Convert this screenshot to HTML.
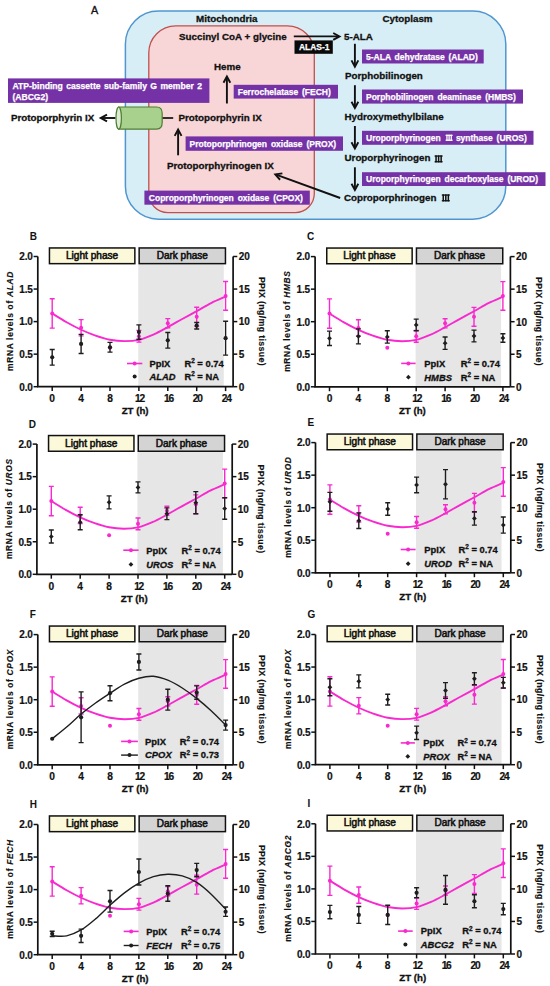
<!DOCTYPE html>
<html><head><meta charset="utf-8"><title>Figure</title>
<style>
html,body{margin:0;padding:0;background:#fff;}
body{width:550px;height:986px;overflow:hidden;}
svg{display:block;font-family:"Liberation Sans", sans-serif;}
</style></head>
<body>
<svg width="550" height="986" viewBox="0 0 550 986">
<text x="91" y="13.8" font-size="10.8" font-weight="normal" text-anchor="start" fill="#111" stroke="#111" stroke-width="0.35" >A</text>
<rect x="125.4" y="11" width="380.4" height="208.2" rx="33" ry="33" fill="#D8EEF6" stroke="#4F96D0" stroke-width="1.5"/>
<path d="M175.8,25.8 L287.3,25.8 A27,27 0 0 1 314.3,52.8 L314.3,193.6 A19,19 0 0 1 295.3,212.6 L167.8,212.6 A19,19 0 0 1 148.8,193.6 L148.8,52.8 A27,27 0 0 1 175.8,25.8 Z" fill="#F8D6D7" stroke="#C0504D" stroke-width="1.3"/>
<text x="196" y="21.7" font-size="9.8" font-weight="bold" text-anchor="start" fill="#111" stroke="#111" stroke-width="0.3" >Mitochondria</text>
<text x="382.5" y="22.3" font-size="9.8" font-weight="bold" text-anchor="start" fill="#111" stroke="#111" stroke-width="0.3" >Cytoplasm</text>
<text x="179" y="39.8" font-size="9.8" font-weight="bold" text-anchor="start" fill="#111" stroke="#111" stroke-width="0.3" >Succinyl CoA + glycine</text>
<text x="344" y="39.8" font-size="9.8" font-weight="bold" text-anchor="start" fill="#111" stroke="#111" stroke-width="0.3" >5-ALA</text>
<text x="345" y="79.1" font-size="9.8" font-weight="bold" text-anchor="start" fill="#111" stroke="#111" stroke-width="0.3" >Porphobilinogen</text>
<text x="344.5" y="119.6" font-size="9.8" font-weight="bold" text-anchor="start" fill="#111" stroke="#111" stroke-width="0.3" >Hydroxymethylbilane</text>
<text x="344.5" y="161.3" font-size="9.8" font-weight="bold" text-anchor="start" fill="#111" stroke="#111" stroke-width="0.3" >Uroporphyrinogen</text>
<g fill="#111"><rect x="434.60" y="155.40" width="8.00" height="1.3"/><rect x="434.60" y="161.10" width="8.00" height="1.3"/><rect x="435.30" y="155.40" width="1.50" height="7.00"/><rect x="437.85" y="155.40" width="1.50" height="7.00"/><rect x="440.40" y="155.40" width="1.50" height="7.00"/></g>
<text x="344" y="200.8" font-size="9.8" font-weight="bold" text-anchor="start" fill="#111" stroke="#111" stroke-width="0.3" >Coproporphrinogen</text>
<g fill="#111"><rect x="441.80" y="194.40" width="8.00" height="1.3"/><rect x="441.80" y="200.10" width="8.00" height="1.3"/><rect x="442.50" y="194.40" width="1.50" height="7.00"/><rect x="445.05" y="194.40" width="1.50" height="7.00"/><rect x="447.60" y="194.40" width="1.50" height="7.00"/></g>
<text x="214" y="69.8" font-size="9.8" font-weight="bold" text-anchor="start" fill="#111" stroke="#111" stroke-width="0.3" >Heme</text>
<text x="11" y="121.3" font-size="9.8" font-weight="bold" text-anchor="start" fill="#111" stroke="#111" stroke-width="0.3" >Protoporphyrin IX</text>
<text x="178.4" y="121.3" font-size="9.8" font-weight="bold" text-anchor="start" fill="#111" stroke="#111" stroke-width="0.3" >Protoporphyrin IX</text>
<text x="167" y="169.3" font-size="9.8" font-weight="bold" text-anchor="start" fill="#111" stroke="#111" stroke-width="0.3" >Protoporphyrinogen IX</text>
<line x1="293.8" y1="36.4" x2="338.70" y2="36.40" stroke="#111" stroke-width="1.9"/>
<polyline points="333.20,39.80 339.50,36.40 333.20,33.00" fill="none" stroke="#111" stroke-width="1.9" stroke-linejoin="miter"/>
<line x1="354.9" y1="43.8" x2="354.90" y2="65.90" stroke="#111" stroke-width="1.9"/>
<polyline points="351.50,60.40 354.90,66.70 358.30,60.40" fill="none" stroke="#111" stroke-width="1.9" stroke-linejoin="miter"/>
<line x1="354.9" y1="85.2" x2="354.90" y2="107.20" stroke="#111" stroke-width="1.9"/>
<polyline points="351.50,101.70 354.90,108.00 358.30,101.70" fill="none" stroke="#111" stroke-width="1.9" stroke-linejoin="miter"/>
<line x1="354.9" y1="126" x2="354.90" y2="147.80" stroke="#111" stroke-width="1.9"/>
<polyline points="351.50,142.30 354.90,148.60 358.30,142.30" fill="none" stroke="#111" stroke-width="1.9" stroke-linejoin="miter"/>
<line x1="354.9" y1="167.3" x2="354.90" y2="189.20" stroke="#111" stroke-width="1.9"/>
<polyline points="351.50,183.70 354.90,190.00 358.30,183.70" fill="none" stroke="#111" stroke-width="1.9" stroke-linejoin="miter"/>
<line x1="226.9" y1="103.5" x2="226.90" y2="77.30" stroke="#111" stroke-width="1.9"/>
<polyline points="230.30,82.80 226.90,76.50 223.50,82.80" fill="none" stroke="#111" stroke-width="1.9" stroke-linejoin="miter"/>
<line x1="178.1" y1="155.3" x2="178.10" y2="130.40" stroke="#111" stroke-width="1.9"/>
<polyline points="181.50,135.90 178.10,129.60 174.70,135.90" fill="none" stroke="#111" stroke-width="1.9" stroke-linejoin="miter"/>
<line x1="340.2" y1="198" x2="276.05" y2="174.67" stroke="#111" stroke-width="1.9"/>
<polyline points="282.38,173.36 275.30,174.40 280.06,179.75" fill="none" stroke="#111" stroke-width="1.9" stroke-linejoin="miter"/>
<line x1="115.5" y1="118" x2="101.50" y2="118.00" stroke="#111" stroke-width="1.9"/>
<polyline points="107.00,114.60 100.70,118.00 107.00,121.40" fill="none" stroke="#111" stroke-width="1.9" stroke-linejoin="miter"/>
<line x1="162" y1="118" x2="173.2" y2="118" stroke="#111" stroke-width="1.7"/>
<path d="M118.6,107 L156.6,107 Q162.2,107 162.2,113.5 L162.2,122.6 Q162.2,129.1 156.6,129.1 L118.6,129.1 Z" fill="#A9D18E" stroke="#4E7D32" stroke-width="1.2"/>
<ellipse cx="118.7" cy="118.05" rx="2.7" ry="11.05" fill="#DDEBD2" stroke="#4E7D32" stroke-width="1.2"/>
<rect x="8" y="78.4" width="201.4" height="24.5" fill="#7532A6"/>
<text x="12.4" y="88.6" font-size="8.6" font-weight="bold" fill="#fff" stroke="#fff" stroke-width="0.25" word-spacing="1">ATP-binding cassette sub-family G member 2</text>
<text x="12.4" y="99.6" font-size="8.6" font-weight="bold" fill="#fff" stroke="#fff" stroke-width="0.25">(ABCG2)</text>
<rect x="233.7" y="84.8" width="104.30" height="13.80" fill="#7532A6"/>
<text x="237.7" y="94.76" font-size="8.5" font-weight="bold" fill="#fff" stroke="#fff" stroke-width="0.25" word-spacing="1.5">Ferrochelatase (FECH)</text>
<rect x="185.6" y="136.4" width="157.40" height="14.40" fill="#7532A6"/>
<text x="189.6" y="146.66" font-size="8.5" font-weight="bold" fill="#fff" stroke="#fff" stroke-width="0.25" word-spacing="1.5">Protoporphrinogen oxidase (PROX)</text>
<rect x="144.4" y="190.6" width="165.40" height="14.10" fill="#7532A6"/>
<text x="148.8" y="200.71" font-size="8.5" font-weight="bold" fill="#fff" stroke="#fff" stroke-width="0.25" word-spacing="1.5">Coproporphyrinogen oxidase (CPOX)</text>
<rect x="362" y="49.5" width="121.70" height="14.00" fill="#7532A6"/>
<text x="366" y="59.56" font-size="8.5" font-weight="bold" fill="#fff" stroke="#fff" stroke-width="0.25" word-spacing="1.5">5-ALA dehydratase (ALAD)</text>
<rect x="362" y="89.5" width="161.00" height="14.10" fill="#7532A6"/>
<text x="366" y="99.61" font-size="8.5" font-weight="bold" fill="#fff" stroke="#fff" stroke-width="0.25" word-spacing="1.5">Porphobilinogen deaminase (HMBS)</text>
<rect x="362" y="130.8" width="171.50" height="14.00" fill="#7532A6"/>
<text x="366" y="140.86" font-size="8.5" font-weight="bold" fill="#fff" stroke="#fff" stroke-width="0.25" word-spacing="1.5">Uroporphyrinogen</text>
<text x="455.9" y="140.9" font-size="8.5" font-weight="bold" fill="#fff" stroke="#fff" stroke-width="0.25" word-spacing="1.5">synthase (UROS)</text>
<g fill="#fff"><rect x="445.60" y="134.70" width="7.00" height="1.3"/><rect x="445.60" y="139.60" width="7.00" height="1.3"/><rect x="446.30" y="134.70" width="1.30" height="6.20"/><rect x="448.45" y="134.70" width="1.30" height="6.20"/><rect x="450.60" y="134.70" width="1.30" height="6.20"/></g>
<rect x="362" y="172.2" width="183.50" height="13.80" fill="#7532A6"/>
<text x="366" y="182.16" font-size="8.5" font-weight="bold" fill="#fff" stroke="#fff" stroke-width="0.25" word-spacing="1.5">Uroporphyrinogen decarboxylase (UROD)</text>
<rect x="294.5" y="40.4" width="38.30" height="13.40" fill="#0a0a0a"/>
<text x="298.9" y="50.16" font-size="8.5" font-weight="bold" fill="#fff" stroke="#fff" stroke-width="0.25" word-spacing="1.5">ALAS-1</text>
<text x="29.7" y="240.0" font-size="10" font-weight="bold" text-anchor="start" fill="#111"  >B</text>
<rect x="138.30" y="264.50" width="85.50" height="122.20" fill="#E6E6E6"/>
<rect x="49.45" y="247.95" width="85.40" height="15.70" fill="#FCF9DA" stroke="#111" stroke-width="1.5"/>
<rect x="139.15" y="247.95" width="86.30" height="15.70" fill="#D4D4D4" stroke="#111" stroke-width="1.5"/>
<text x="92.1" y="259.1" font-size="10.1" font-weight="normal" text-anchor="middle" fill="#111" stroke="#111" stroke-width="0.55" >Light phase</text>
<text x="182.3" y="259.1" font-size="10.0" font-weight="normal" text-anchor="middle" fill="#111" stroke="#111" stroke-width="0.55" >Dark phase</text>
<path d="M37.80,256.50 L37.80,386.70 L233.10,386.70 M233.10,386.70 L233.10,256.50" fill="none" stroke="#111" stroke-width="1.7"/>
<line x1="33.60" y1="386.70" x2="37.80" y2="386.70" stroke="#111" stroke-width="1.5"/>
<text x="32.599999999999994" y="390.5" font-size="10" font-weight="bold" text-anchor="end" fill="#111" stroke="#111" stroke-width="0.2" letter-spacing="-0.2">0.0</text>
<line x1="233.10" y1="386.70" x2="237.30" y2="386.70" stroke="#111" stroke-width="1.5"/>
<text x="238.7" y="390.5" font-size="10" font-weight="bold" text-anchor="start" fill="#111" stroke="#111" stroke-width="0.2" >0</text>
<line x1="33.60" y1="354.15" x2="37.80" y2="354.15" stroke="#111" stroke-width="1.5"/>
<text x="32.599999999999994" y="357.95" font-size="10" font-weight="bold" text-anchor="end" fill="#111" stroke="#111" stroke-width="0.2" letter-spacing="-0.2">0.5</text>
<line x1="233.10" y1="354.15" x2="237.30" y2="354.15" stroke="#111" stroke-width="1.5"/>
<text x="238.7" y="357.95" font-size="10" font-weight="bold" text-anchor="start" fill="#111" stroke="#111" stroke-width="0.2" >5</text>
<line x1="33.60" y1="321.60" x2="37.80" y2="321.60" stroke="#111" stroke-width="1.5"/>
<text x="32.599999999999994" y="325.40000000000003" font-size="10" font-weight="bold" text-anchor="end" fill="#111" stroke="#111" stroke-width="0.2" letter-spacing="-0.2">1.0</text>
<line x1="233.10" y1="321.60" x2="237.30" y2="321.60" stroke="#111" stroke-width="1.5"/>
<text x="238.7" y="325.40000000000003" font-size="10" font-weight="bold" text-anchor="start" fill="#111" stroke="#111" stroke-width="0.2" >10</text>
<line x1="33.60" y1="289.05" x2="37.80" y2="289.05" stroke="#111" stroke-width="1.5"/>
<text x="32.599999999999994" y="292.85" font-size="10" font-weight="bold" text-anchor="end" fill="#111" stroke="#111" stroke-width="0.2" letter-spacing="-0.2">1.5</text>
<line x1="233.10" y1="289.05" x2="237.30" y2="289.05" stroke="#111" stroke-width="1.5"/>
<text x="238.7" y="292.85" font-size="10" font-weight="bold" text-anchor="start" fill="#111" stroke="#111" stroke-width="0.2" >15</text>
<line x1="33.60" y1="256.50" x2="37.80" y2="256.50" stroke="#111" stroke-width="1.5"/>
<text x="32.599999999999994" y="260.3" font-size="10" font-weight="bold" text-anchor="end" fill="#111" stroke="#111" stroke-width="0.2" letter-spacing="-0.2">2.0</text>
<line x1="233.10" y1="256.50" x2="237.30" y2="256.50" stroke="#111" stroke-width="1.5"/>
<text x="238.7" y="260.3" font-size="10" font-weight="bold" text-anchor="start" fill="#111" stroke="#111" stroke-width="0.2" >20</text>
<line x1="52.20" y1="386.70" x2="52.20" y2="391.10" stroke="#111" stroke-width="1.5"/>
<text x="52.2" y="402.09999999999997" font-size="10.2" font-weight="bold" text-anchor="middle" fill="#111" stroke="#111" stroke-width="0.2" letter-spacing="0">0</text>
<line x1="81.10" y1="386.70" x2="81.10" y2="391.10" stroke="#111" stroke-width="1.5"/>
<text x="81.1" y="402.09999999999997" font-size="10.2" font-weight="bold" text-anchor="middle" fill="#111" stroke="#111" stroke-width="0.2" letter-spacing="0">4</text>
<line x1="110.00" y1="386.70" x2="110.00" y2="391.10" stroke="#111" stroke-width="1.5"/>
<text x="110.0" y="402.09999999999997" font-size="10.2" font-weight="bold" text-anchor="middle" fill="#111" stroke="#111" stroke-width="0.2" letter-spacing="0">8</text>
<line x1="138.90" y1="386.70" x2="138.90" y2="391.10" stroke="#111" stroke-width="1.5"/>
<text x="139.49999999999997" y="402.09999999999997" font-size="10.2" font-weight="bold" text-anchor="middle" fill="#111" stroke="#111" stroke-width="0.2" letter-spacing="-1.2">12</text>
<line x1="167.80" y1="386.70" x2="167.80" y2="391.10" stroke="#111" stroke-width="1.5"/>
<text x="168.4" y="402.09999999999997" font-size="10.2" font-weight="bold" text-anchor="middle" fill="#111" stroke="#111" stroke-width="0.2" letter-spacing="-1.2">16</text>
<line x1="196.70" y1="386.70" x2="196.70" y2="391.10" stroke="#111" stroke-width="1.5"/>
<text x="197.29999999999998" y="402.09999999999997" font-size="10.2" font-weight="bold" text-anchor="middle" fill="#111" stroke="#111" stroke-width="0.2" letter-spacing="-1.2">20</text>
<line x1="225.60" y1="386.70" x2="225.60" y2="391.10" stroke="#111" stroke-width="1.5"/>
<text x="226.19999999999996" y="402.09999999999997" font-size="10.2" font-weight="bold" text-anchor="middle" fill="#111" stroke="#111" stroke-width="0.2" letter-spacing="-1.2">24</text>
<text x="135.1" y="414.0" font-size="9.7" font-weight="bold" text-anchor="middle" fill="#111" stroke="#111" stroke-width="0.3" >ZT (h)</text>
<text transform="translate(12.90,321.00) rotate(-90)" font-size="8.4" letter-spacing="0.7" font-weight="bold" text-anchor="middle" fill="#111" stroke="#111" stroke-width="0.15">mRNA levels of <tspan font-style="italic">ALAD</tspan></text>
<text transform="translate(259.00,321.40) rotate(90)" font-size="8.9" letter-spacing="0.3" font-weight="bold" text-anchor="middle" fill="#111" stroke="#111" stroke-width="0.15">PPIX (ng/mg tissue)</text>
<path d="M52.20,313.46 C54.61,314.93 61.83,319.54 66.65,322.25 C71.47,324.96 76.28,327.51 81.10,329.74 C85.92,331.96 90.73,333.94 95.55,335.60 C100.37,337.26 105.18,338.78 110.00,339.70 C114.82,340.62 119.63,341.11 124.45,341.13 C129.27,341.15 134.08,340.91 138.90,339.83 C143.72,338.74 148.53,336.74 153.35,334.62 C158.17,332.50 162.98,329.74 167.80,327.13 C172.62,324.53 177.43,321.65 182.25,319.00 C187.07,316.34 191.88,313.84 196.70,311.18 C201.52,308.53 206.33,305.49 211.15,303.05 C215.97,300.61 223.19,297.62 225.60,296.54" fill="none" stroke="#F829CE" stroke-width="1.9"/>
<path d="M52.20,298.81 L52.20,328.11 M49.70,298.81 L54.70,298.81 M49.70,328.11 L54.70,328.11" stroke="#F829CE" stroke-width="1.4" fill="none"/>
<circle cx="52.20" cy="313.46" r="2.0" fill="#F829CE"/>
<path d="M81.10,319.65 L81.10,335.92 M78.60,319.65 L83.60,319.65 M78.60,335.92 L83.60,335.92" stroke="#F829CE" stroke-width="1.4" fill="none"/>
<circle cx="81.10" cy="327.78" r="2.0" fill="#F829CE"/>
<circle cx="110.00" cy="347.64" r="2.0" fill="#F829CE"/>
<path d="M138.90,330.39 L138.90,342.11 M136.40,330.39 L141.40,330.39 M136.40,342.11 L141.40,342.11" stroke="#F829CE" stroke-width="1.4" fill="none"/>
<circle cx="138.90" cy="336.25" r="2.0" fill="#F829CE"/>
<path d="M167.80,318.67 L167.80,327.78 M165.30,318.67 L170.30,318.67 M165.30,327.78 L170.30,327.78" stroke="#F829CE" stroke-width="1.4" fill="none"/>
<circle cx="167.80" cy="323.23" r="2.0" fill="#F829CE"/>
<path d="M196.70,307.28 L196.70,326.16 M194.20,307.28 L199.20,307.28 M194.20,326.16 L199.20,326.16" stroke="#F829CE" stroke-width="1.4" fill="none"/>
<circle cx="196.70" cy="316.72" r="2.0" fill="#F829CE"/>
<path d="M225.60,281.56 L225.60,310.21 M223.10,281.56 L228.10,281.56 M223.10,310.21 L228.10,310.21" stroke="#F829CE" stroke-width="1.4" fill="none"/>
<circle cx="225.60" cy="295.89" r="2.0" fill="#F829CE"/>
<path d="M52.20,349.46 L52.20,365.09 M49.70,349.46 L54.70,349.46 M49.70,365.09 L54.70,365.09" stroke="#1e1e1e" stroke-width="1.4" fill="none"/>
<circle cx="52.20" cy="357.27" r="2.1" fill="#1e1e1e"/>
<path d="M81.10,334.36 L81.10,353.50 M78.60,334.36 L83.60,334.36 M78.60,353.50 L83.60,353.50" stroke="#1e1e1e" stroke-width="1.4" fill="none"/>
<circle cx="81.10" cy="343.93" r="2.1" fill="#1e1e1e"/>
<path d="M110.00,342.37 L110.00,352.13 M107.50,342.37 L112.50,342.37 M107.50,352.13 L112.50,352.13" stroke="#1e1e1e" stroke-width="1.4" fill="none"/>
<circle cx="110.00" cy="347.25" r="2.1" fill="#1e1e1e"/>
<path d="M138.90,324.86 L138.90,339.18 M136.40,324.86 L141.40,324.86 M136.40,339.18 L141.40,339.18" stroke="#1e1e1e" stroke-width="1.4" fill="none"/>
<circle cx="138.90" cy="332.02" r="2.1" fill="#1e1e1e"/>
<path d="M167.80,332.47 L167.80,348.10 M165.30,332.47 L170.30,332.47 M165.30,348.10 L170.30,348.10" stroke="#1e1e1e" stroke-width="1.4" fill="none"/>
<circle cx="167.80" cy="340.28" r="2.1" fill="#1e1e1e"/>
<path d="M196.70,322.45 L196.70,328.96 M194.20,322.45 L199.20,322.45 M194.20,328.96 L199.20,328.96" stroke="#1e1e1e" stroke-width="1.4" fill="none"/>
<circle cx="196.70" cy="325.70" r="2.1" fill="#1e1e1e"/>
<path d="M225.60,321.27 L225.60,355.13 M223.10,321.27 L228.10,321.27 M223.10,355.13 L228.10,355.13" stroke="#1e1e1e" stroke-width="1.4" fill="none"/>
<circle cx="225.60" cy="338.20" r="2.1" fill="#1e1e1e"/>
<line x1="127.00" y1="363.50" x2="142.30" y2="363.50" stroke="#F829CE" stroke-width="1.6"/>
<circle cx="134.65" cy="363.50" r="2.0" fill="#F829CE"/>
<text x="149.5" y="366.8" font-size="9.4" font-weight="bold" text-anchor="start" fill="#111" stroke="#111" stroke-width="0.3" >PpIX</text>
<text x="184.4" y="366.8" font-size="9.4" font-weight="bold" text-anchor="start" fill="#111" stroke="#111" stroke-width="0.3" >R<tspan font-size="6.4" dy="-3.7">2</tspan><tspan dy="3.7"> = 0.74</tspan></text>
<circle cx="134.65" cy="376.60" r="2.0" fill="#1e1e1e"/>
<text x="149.5" y="379.9" font-size="9.4" font-weight="bold" text-anchor="start" fill="#111" stroke="#111" stroke-width="0.3" ><tspan font-style="italic">ALAD</tspan></text>
<text x="184.4" y="379.9" font-size="9.4" font-weight="bold" text-anchor="start" fill="#111" stroke="#111" stroke-width="0.3" >R<tspan font-size="6.4" dy="-3.7">2</tspan><tspan dy="3.7"> = NA</tspan></text>
<text x="307.0" y="240.10000000000002" font-size="10" font-weight="bold" text-anchor="start" fill="#111"  >C</text>
<rect x="415.60" y="264.60" width="85.50" height="122.20" fill="#E6E6E6"/>
<rect x="326.75" y="248.05" width="85.40" height="15.70" fill="#FCF9DA" stroke="#111" stroke-width="1.5"/>
<rect x="416.45" y="248.05" width="86.30" height="15.70" fill="#D4D4D4" stroke="#111" stroke-width="1.5"/>
<text x="369.4" y="259.20000000000005" font-size="10.1" font-weight="normal" text-anchor="middle" fill="#111" stroke="#111" stroke-width="0.55" >Light phase</text>
<text x="459.6" y="259.20000000000005" font-size="10.0" font-weight="normal" text-anchor="middle" fill="#111" stroke="#111" stroke-width="0.55" >Dark phase</text>
<path d="M315.10,256.60 L315.10,386.80 L510.40,386.80 M510.40,386.80 L510.40,256.60" fill="none" stroke="#111" stroke-width="1.7"/>
<line x1="310.90" y1="386.80" x2="315.10" y2="386.80" stroke="#111" stroke-width="1.5"/>
<text x="309.90000000000003" y="390.6" font-size="10" font-weight="bold" text-anchor="end" fill="#111" stroke="#111" stroke-width="0.2" letter-spacing="-0.2">0.0</text>
<line x1="510.40" y1="386.80" x2="514.60" y2="386.80" stroke="#111" stroke-width="1.5"/>
<text x="516.0" y="390.6" font-size="10" font-weight="bold" text-anchor="start" fill="#111" stroke="#111" stroke-width="0.2" >0</text>
<line x1="310.90" y1="354.25" x2="315.10" y2="354.25" stroke="#111" stroke-width="1.5"/>
<text x="309.90000000000003" y="358.05" font-size="10" font-weight="bold" text-anchor="end" fill="#111" stroke="#111" stroke-width="0.2" letter-spacing="-0.2">0.5</text>
<line x1="510.40" y1="354.25" x2="514.60" y2="354.25" stroke="#111" stroke-width="1.5"/>
<text x="516.0" y="358.05" font-size="10" font-weight="bold" text-anchor="start" fill="#111" stroke="#111" stroke-width="0.2" >5</text>
<line x1="310.90" y1="321.70" x2="315.10" y2="321.70" stroke="#111" stroke-width="1.5"/>
<text x="309.90000000000003" y="325.50000000000006" font-size="10" font-weight="bold" text-anchor="end" fill="#111" stroke="#111" stroke-width="0.2" letter-spacing="-0.2">1.0</text>
<line x1="510.40" y1="321.70" x2="514.60" y2="321.70" stroke="#111" stroke-width="1.5"/>
<text x="516.0" y="325.50000000000006" font-size="10" font-weight="bold" text-anchor="start" fill="#111" stroke="#111" stroke-width="0.2" >10</text>
<line x1="310.90" y1="289.15" x2="315.10" y2="289.15" stroke="#111" stroke-width="1.5"/>
<text x="309.90000000000003" y="292.95000000000005" font-size="10" font-weight="bold" text-anchor="end" fill="#111" stroke="#111" stroke-width="0.2" letter-spacing="-0.2">1.5</text>
<line x1="510.40" y1="289.15" x2="514.60" y2="289.15" stroke="#111" stroke-width="1.5"/>
<text x="516.0" y="292.95000000000005" font-size="10" font-weight="bold" text-anchor="start" fill="#111" stroke="#111" stroke-width="0.2" >15</text>
<line x1="310.90" y1="256.60" x2="315.10" y2="256.60" stroke="#111" stroke-width="1.5"/>
<text x="309.90000000000003" y="260.40000000000003" font-size="10" font-weight="bold" text-anchor="end" fill="#111" stroke="#111" stroke-width="0.2" letter-spacing="-0.2">2.0</text>
<line x1="510.40" y1="256.60" x2="514.60" y2="256.60" stroke="#111" stroke-width="1.5"/>
<text x="516.0" y="260.40000000000003" font-size="10" font-weight="bold" text-anchor="start" fill="#111" stroke="#111" stroke-width="0.2" >20</text>
<line x1="329.50" y1="386.80" x2="329.50" y2="391.20" stroke="#111" stroke-width="1.5"/>
<text x="329.5" y="402.2" font-size="10.2" font-weight="bold" text-anchor="middle" fill="#111" stroke="#111" stroke-width="0.2" letter-spacing="0">0</text>
<line x1="358.40" y1="386.80" x2="358.40" y2="391.20" stroke="#111" stroke-width="1.5"/>
<text x="358.4" y="402.2" font-size="10.2" font-weight="bold" text-anchor="middle" fill="#111" stroke="#111" stroke-width="0.2" letter-spacing="0">4</text>
<line x1="387.30" y1="386.80" x2="387.30" y2="391.20" stroke="#111" stroke-width="1.5"/>
<text x="387.3" y="402.2" font-size="10.2" font-weight="bold" text-anchor="middle" fill="#111" stroke="#111" stroke-width="0.2" letter-spacing="0">8</text>
<line x1="416.20" y1="386.80" x2="416.20" y2="391.20" stroke="#111" stroke-width="1.5"/>
<text x="416.8" y="402.2" font-size="10.2" font-weight="bold" text-anchor="middle" fill="#111" stroke="#111" stroke-width="0.2" letter-spacing="-1.2">12</text>
<line x1="445.10" y1="386.80" x2="445.10" y2="391.20" stroke="#111" stroke-width="1.5"/>
<text x="445.70000000000005" y="402.2" font-size="10.2" font-weight="bold" text-anchor="middle" fill="#111" stroke="#111" stroke-width="0.2" letter-spacing="-1.2">16</text>
<line x1="474.00" y1="386.80" x2="474.00" y2="391.20" stroke="#111" stroke-width="1.5"/>
<text x="474.6" y="402.2" font-size="10.2" font-weight="bold" text-anchor="middle" fill="#111" stroke="#111" stroke-width="0.2" letter-spacing="-1.2">20</text>
<line x1="502.90" y1="386.80" x2="502.90" y2="391.20" stroke="#111" stroke-width="1.5"/>
<text x="503.5" y="402.2" font-size="10.2" font-weight="bold" text-anchor="middle" fill="#111" stroke="#111" stroke-width="0.2" letter-spacing="-1.2">24</text>
<text x="412.4" y="414.1" font-size="9.7" font-weight="bold" text-anchor="middle" fill="#111" stroke="#111" stroke-width="0.3" >ZT (h)</text>
<text transform="translate(290.20,321.10) rotate(-90)" font-size="8.4" letter-spacing="0.7" font-weight="bold" text-anchor="middle" fill="#111" stroke="#111" stroke-width="0.15">mRNA levels of <tspan font-style="italic">HMBS</tspan></text>
<text transform="translate(536.30,321.50) rotate(90)" font-size="8.9" letter-spacing="0.3" font-weight="bold" text-anchor="middle" fill="#111" stroke="#111" stroke-width="0.15">PPIX (ng/mg tissue)</text>
<path d="M329.50,313.56 C331.91,315.03 339.13,319.64 343.95,322.35 C348.77,325.06 353.58,327.61 358.40,329.84 C363.22,332.06 368.03,334.04 372.85,335.70 C377.67,337.36 382.48,338.88 387.30,339.80 C392.12,340.72 396.93,341.21 401.75,341.23 C406.57,341.25 411.38,341.01 416.20,339.93 C421.02,338.84 425.83,336.84 430.65,334.72 C435.47,332.60 440.28,329.84 445.10,327.23 C449.92,324.63 454.73,321.75 459.55,319.10 C464.37,316.44 469.18,313.94 474.00,311.28 C478.82,308.63 483.63,305.59 488.45,303.15 C493.27,300.71 500.49,297.72 502.90,296.64" fill="none" stroke="#F829CE" stroke-width="1.9"/>
<path d="M329.50,298.92 L329.50,328.21 M327.00,298.92 L332.00,298.92 M327.00,328.21 L332.00,328.21" stroke="#F829CE" stroke-width="1.4" fill="none"/>
<circle cx="329.50" cy="313.56" r="2.0" fill="#F829CE"/>
<path d="M358.40,319.75 L358.40,336.02 M355.90,319.75 L360.90,319.75 M355.90,336.02 L360.90,336.02" stroke="#F829CE" stroke-width="1.4" fill="none"/>
<circle cx="358.40" cy="327.88" r="2.0" fill="#F829CE"/>
<circle cx="387.30" cy="347.74" r="2.0" fill="#F829CE"/>
<path d="M416.20,330.49 L416.20,342.21 M413.70,330.49 L418.70,330.49 M413.70,342.21 L418.70,342.21" stroke="#F829CE" stroke-width="1.4" fill="none"/>
<circle cx="416.20" cy="336.35" r="2.0" fill="#F829CE"/>
<path d="M445.10,318.77 L445.10,327.88 M442.60,318.77 L447.60,318.77 M442.60,327.88 L447.60,327.88" stroke="#F829CE" stroke-width="1.4" fill="none"/>
<circle cx="445.10" cy="323.33" r="2.0" fill="#F829CE"/>
<path d="M474.00,307.38 L474.00,326.26 M471.50,307.38 L476.50,307.38 M471.50,326.26 L476.50,326.26" stroke="#F829CE" stroke-width="1.4" fill="none"/>
<circle cx="474.00" cy="316.82" r="2.0" fill="#F829CE"/>
<path d="M502.90,281.66 L502.90,310.31 M500.40,281.66 L505.40,281.66 M500.40,310.31 L505.40,310.31" stroke="#F829CE" stroke-width="1.4" fill="none"/>
<circle cx="502.90" cy="295.99" r="2.0" fill="#F829CE"/>
<path d="M329.50,331.14 L329.50,345.46 M327.00,331.14 L332.00,331.14 M327.00,345.46 L332.00,345.46" stroke="#1e1e1e" stroke-width="1.4" fill="none"/>
<path d="M329.50,335.90 L331.90,338.30 L329.50,340.70 L327.10,338.30 Z" fill="#1e1e1e"/>
<path d="M358.40,328.86 L358.40,343.83 M355.90,328.86 L360.90,328.86 M355.90,343.83 L360.90,343.83" stroke="#1e1e1e" stroke-width="1.4" fill="none"/>
<path d="M358.40,333.95 L360.80,336.35 L358.40,338.75 L356.00,336.35 Z" fill="#1e1e1e"/>
<path d="M387.30,330.75 L387.30,343.12 M384.80,330.75 L389.80,330.75 M384.80,343.12 L389.80,343.12" stroke="#1e1e1e" stroke-width="1.4" fill="none"/>
<path d="M387.30,334.53 L389.70,336.93 L387.30,339.33 L384.90,336.93 Z" fill="#1e1e1e"/>
<path d="M416.20,319.10 L416.20,330.81 M413.70,319.10 L418.70,319.10 M413.70,330.81 L418.70,330.81" stroke="#1e1e1e" stroke-width="1.4" fill="none"/>
<path d="M416.20,322.56 L418.60,324.96 L416.20,327.36 L413.80,324.96 Z" fill="#1e1e1e"/>
<path d="M445.10,337.00 L445.10,349.37 M442.60,337.00 L447.60,337.00 M442.60,349.37 L447.60,349.37" stroke="#1e1e1e" stroke-width="1.4" fill="none"/>
<path d="M445.10,340.78 L447.50,343.18 L445.10,345.58 L442.70,343.18 Z" fill="#1e1e1e"/>
<path d="M474.00,330.16 L474.00,341.88 M471.50,330.16 L476.50,330.16 M471.50,341.88 L476.50,341.88" stroke="#1e1e1e" stroke-width="1.4" fill="none"/>
<path d="M474.00,333.62 L476.40,336.02 L474.00,338.42 L471.60,336.02 Z" fill="#1e1e1e"/>
<path d="M502.90,333.74 L502.90,342.21 M500.40,333.74 L505.40,333.74 M500.40,342.21 L505.40,342.21" stroke="#1e1e1e" stroke-width="1.4" fill="none"/>
<path d="M502.90,335.58 L505.30,337.98 L502.90,340.38 L500.50,337.98 Z" fill="#1e1e1e"/>
<line x1="401.20" y1="363.40" x2="415.60" y2="363.40" stroke="#F829CE" stroke-width="1.6"/>
<circle cx="408.40" cy="363.40" r="2.0" fill="#F829CE"/>
<text x="424.3" y="366.7" font-size="9.4" font-weight="bold" text-anchor="start" fill="#111" stroke="#111" stroke-width="0.3" >PpIX</text>
<text x="460.7" y="366.7" font-size="9.4" font-weight="bold" text-anchor="start" fill="#111" stroke="#111" stroke-width="0.3" >R<tspan font-size="6.4" dy="-3.7">2</tspan><tspan dy="3.7"> = 0.74</tspan></text>
<path d="M408.40,374.80 L410.80,377.20 L408.40,379.60 L406.00,377.20 Z" fill="#1e1e1e"/>
<text x="424.3" y="380.5" font-size="9.4" font-weight="bold" text-anchor="start" fill="#111" stroke="#111" stroke-width="0.3" ><tspan font-style="italic">HMBS</tspan></text>
<text x="460.7" y="380.5" font-size="9.4" font-weight="bold" text-anchor="start" fill="#111" stroke="#111" stroke-width="0.3" >R<tspan font-size="6.4" dy="-3.7">2</tspan><tspan dy="3.7"> = NA</tspan></text>
<text x="28.8" y="427.59999999999997" font-size="10" font-weight="bold" text-anchor="start" fill="#111"  >D</text>
<rect x="137.40" y="452.10" width="85.50" height="122.20" fill="#E6E6E6"/>
<rect x="48.55" y="435.55" width="85.40" height="15.70" fill="#FCF9DA" stroke="#111" stroke-width="1.5"/>
<rect x="138.25" y="435.55" width="86.30" height="15.70" fill="#D4D4D4" stroke="#111" stroke-width="1.5"/>
<text x="91.19999999999999" y="446.7" font-size="10.1" font-weight="normal" text-anchor="middle" fill="#111" stroke="#111" stroke-width="0.55" >Light phase</text>
<text x="181.4" y="446.7" font-size="10.0" font-weight="normal" text-anchor="middle" fill="#111" stroke="#111" stroke-width="0.55" >Dark phase</text>
<path d="M36.90,444.10 L36.90,574.30 L232.20,574.30 M232.20,574.30 L232.20,444.10" fill="none" stroke="#111" stroke-width="1.7"/>
<line x1="32.70" y1="574.30" x2="36.90" y2="574.30" stroke="#111" stroke-width="1.5"/>
<text x="31.7" y="578.0999999999999" font-size="10" font-weight="bold" text-anchor="end" fill="#111" stroke="#111" stroke-width="0.2" letter-spacing="-0.2">0.0</text>
<line x1="232.20" y1="574.30" x2="236.40" y2="574.30" stroke="#111" stroke-width="1.5"/>
<text x="237.79999999999998" y="578.0999999999999" font-size="10" font-weight="bold" text-anchor="start" fill="#111" stroke="#111" stroke-width="0.2" >0</text>
<line x1="32.70" y1="541.75" x2="36.90" y2="541.75" stroke="#111" stroke-width="1.5"/>
<text x="31.7" y="545.55" font-size="10" font-weight="bold" text-anchor="end" fill="#111" stroke="#111" stroke-width="0.2" letter-spacing="-0.2">0.5</text>
<line x1="232.20" y1="541.75" x2="236.40" y2="541.75" stroke="#111" stroke-width="1.5"/>
<text x="237.79999999999998" y="545.55" font-size="10" font-weight="bold" text-anchor="start" fill="#111" stroke="#111" stroke-width="0.2" >5</text>
<line x1="32.70" y1="509.20" x2="36.90" y2="509.20" stroke="#111" stroke-width="1.5"/>
<text x="31.7" y="512.9999999999999" font-size="10" font-weight="bold" text-anchor="end" fill="#111" stroke="#111" stroke-width="0.2" letter-spacing="-0.2">1.0</text>
<line x1="232.20" y1="509.20" x2="236.40" y2="509.20" stroke="#111" stroke-width="1.5"/>
<text x="237.79999999999998" y="512.9999999999999" font-size="10" font-weight="bold" text-anchor="start" fill="#111" stroke="#111" stroke-width="0.2" >10</text>
<line x1="32.70" y1="476.65" x2="36.90" y2="476.65" stroke="#111" stroke-width="1.5"/>
<text x="31.7" y="480.45" font-size="10" font-weight="bold" text-anchor="end" fill="#111" stroke="#111" stroke-width="0.2" letter-spacing="-0.2">1.5</text>
<line x1="232.20" y1="476.65" x2="236.40" y2="476.65" stroke="#111" stroke-width="1.5"/>
<text x="237.79999999999998" y="480.45" font-size="10" font-weight="bold" text-anchor="start" fill="#111" stroke="#111" stroke-width="0.2" >15</text>
<line x1="32.70" y1="444.10" x2="36.90" y2="444.10" stroke="#111" stroke-width="1.5"/>
<text x="31.7" y="447.9" font-size="10" font-weight="bold" text-anchor="end" fill="#111" stroke="#111" stroke-width="0.2" letter-spacing="-0.2">2.0</text>
<line x1="232.20" y1="444.10" x2="236.40" y2="444.10" stroke="#111" stroke-width="1.5"/>
<text x="237.79999999999998" y="447.9" font-size="10" font-weight="bold" text-anchor="start" fill="#111" stroke="#111" stroke-width="0.2" >20</text>
<line x1="51.30" y1="574.30" x2="51.30" y2="578.70" stroke="#111" stroke-width="1.5"/>
<text x="51.300000000000004" y="589.6999999999999" font-size="10.2" font-weight="bold" text-anchor="middle" fill="#111" stroke="#111" stroke-width="0.2" letter-spacing="0">0</text>
<line x1="80.20" y1="574.30" x2="80.20" y2="578.70" stroke="#111" stroke-width="1.5"/>
<text x="80.2" y="589.6999999999999" font-size="10.2" font-weight="bold" text-anchor="middle" fill="#111" stroke="#111" stroke-width="0.2" letter-spacing="0">4</text>
<line x1="109.10" y1="574.30" x2="109.10" y2="578.70" stroke="#111" stroke-width="1.5"/>
<text x="109.1" y="589.6999999999999" font-size="10.2" font-weight="bold" text-anchor="middle" fill="#111" stroke="#111" stroke-width="0.2" letter-spacing="0">8</text>
<line x1="138.00" y1="574.30" x2="138.00" y2="578.70" stroke="#111" stroke-width="1.5"/>
<text x="138.6" y="589.6999999999999" font-size="10.2" font-weight="bold" text-anchor="middle" fill="#111" stroke="#111" stroke-width="0.2" letter-spacing="-1.2">12</text>
<line x1="166.90" y1="574.30" x2="166.90" y2="578.70" stroke="#111" stroke-width="1.5"/>
<text x="167.5" y="589.6999999999999" font-size="10.2" font-weight="bold" text-anchor="middle" fill="#111" stroke="#111" stroke-width="0.2" letter-spacing="-1.2">16</text>
<line x1="195.80" y1="574.30" x2="195.80" y2="578.70" stroke="#111" stroke-width="1.5"/>
<text x="196.4" y="589.6999999999999" font-size="10.2" font-weight="bold" text-anchor="middle" fill="#111" stroke="#111" stroke-width="0.2" letter-spacing="-1.2">20</text>
<line x1="224.70" y1="574.30" x2="224.70" y2="578.70" stroke="#111" stroke-width="1.5"/>
<text x="225.29999999999998" y="589.6999999999999" font-size="10.2" font-weight="bold" text-anchor="middle" fill="#111" stroke="#111" stroke-width="0.2" letter-spacing="-1.2">24</text>
<text x="134.2" y="601.5999999999999" font-size="9.7" font-weight="bold" text-anchor="middle" fill="#111" stroke="#111" stroke-width="0.3" >ZT (h)</text>
<text transform="translate(12.00,508.60) rotate(-90)" font-size="8.4" letter-spacing="0.7" font-weight="bold" text-anchor="middle" fill="#111" stroke="#111" stroke-width="0.15">mRNA levels of <tspan font-style="italic">UROS</tspan></text>
<text transform="translate(258.10,509.00) rotate(90)" font-size="8.9" letter-spacing="0.3" font-weight="bold" text-anchor="middle" fill="#111" stroke="#111" stroke-width="0.15">PPIX (ng/mg tissue)</text>
<path d="M51.30,501.06 C53.71,502.53 60.93,507.14 65.75,509.85 C70.57,512.56 75.38,515.11 80.20,517.34 C85.02,519.56 89.83,521.54 94.65,523.20 C99.47,524.86 104.28,526.38 109.10,527.30 C113.92,528.22 118.73,528.71 123.55,528.73 C128.37,528.75 133.18,528.51 138.00,527.43 C142.82,526.34 147.63,524.34 152.45,522.22 C157.27,520.10 162.08,517.34 166.90,514.73 C171.72,512.13 176.53,509.25 181.35,506.60 C186.17,503.94 190.98,501.44 195.80,498.78 C200.62,496.13 205.43,493.09 210.25,490.65 C215.07,488.21 222.29,485.22 224.70,484.14" fill="none" stroke="#F829CE" stroke-width="1.9"/>
<path d="M51.30,486.41 L51.30,515.71 M48.80,486.41 L53.80,486.41 M48.80,515.71 L53.80,515.71" stroke="#F829CE" stroke-width="1.4" fill="none"/>
<circle cx="51.30" cy="501.06" r="2.0" fill="#F829CE"/>
<path d="M80.20,507.25 L80.20,523.52 M77.70,507.25 L82.70,507.25 M77.70,523.52 L82.70,523.52" stroke="#F829CE" stroke-width="1.4" fill="none"/>
<circle cx="80.20" cy="515.38" r="2.0" fill="#F829CE"/>
<circle cx="109.10" cy="535.24" r="2.0" fill="#F829CE"/>
<path d="M138.00,517.99 L138.00,529.71 M135.50,517.99 L140.50,517.99 M135.50,529.71 L140.50,529.71" stroke="#F829CE" stroke-width="1.4" fill="none"/>
<circle cx="138.00" cy="523.85" r="2.0" fill="#F829CE"/>
<path d="M166.90,506.27 L166.90,515.38 M164.40,506.27 L169.40,506.27 M164.40,515.38 L169.40,515.38" stroke="#F829CE" stroke-width="1.4" fill="none"/>
<circle cx="166.90" cy="510.83" r="2.0" fill="#F829CE"/>
<path d="M195.80,494.88 L195.80,513.76 M193.30,494.88 L198.30,494.88 M193.30,513.76 L198.30,513.76" stroke="#F829CE" stroke-width="1.4" fill="none"/>
<circle cx="195.80" cy="504.32" r="2.0" fill="#F829CE"/>
<path d="M224.70,469.16 L224.70,497.81 M222.20,469.16 L227.20,469.16 M222.20,497.81 L227.20,497.81" stroke="#F829CE" stroke-width="1.4" fill="none"/>
<circle cx="224.70" cy="483.49" r="2.0" fill="#F829CE"/>
<path d="M51.30,530.03 L51.30,543.05 M48.80,530.03 L53.80,530.03 M48.80,543.05 L53.80,543.05" stroke="#1e1e1e" stroke-width="1.4" fill="none"/>
<path d="M51.30,534.14 L53.70,536.54 L51.30,538.94 L48.90,536.54 Z" fill="#1e1e1e"/>
<path d="M80.20,514.73 L80.20,529.71 M77.70,514.73 L82.70,514.73 M77.70,529.71 L82.70,529.71" stroke="#1e1e1e" stroke-width="1.4" fill="none"/>
<path d="M80.20,519.82 L82.60,522.22 L80.20,524.62 L77.80,522.22 Z" fill="#1e1e1e"/>
<path d="M109.10,495.85 L109.10,508.87 M106.60,495.85 L111.60,495.85 M106.60,508.87 L111.60,508.87" stroke="#1e1e1e" stroke-width="1.4" fill="none"/>
<path d="M109.10,499.96 L111.50,502.36 L109.10,504.76 L106.70,502.36 Z" fill="#1e1e1e"/>
<path d="M138.00,481.86 L138.00,492.92 M135.50,481.86 L140.50,481.86 M135.50,492.92 L140.50,492.92" stroke="#1e1e1e" stroke-width="1.4" fill="none"/>
<path d="M138.00,484.99 L140.40,487.39 L138.00,489.79 L135.60,487.39 Z" fill="#1e1e1e"/>
<path d="M166.90,507.90 L166.90,519.62 M164.40,507.90 L169.40,507.90 M164.40,519.62 L169.40,519.62" stroke="#1e1e1e" stroke-width="1.4" fill="none"/>
<path d="M166.90,511.36 L169.30,513.76 L166.90,516.16 L164.50,513.76 Z" fill="#1e1e1e"/>
<path d="M195.80,491.62 L195.80,513.76 M193.30,491.62 L198.30,491.62 M193.30,513.76 L198.30,513.76" stroke="#1e1e1e" stroke-width="1.4" fill="none"/>
<path d="M195.80,500.29 L198.20,502.69 L195.80,505.09 L193.40,502.69 Z" fill="#1e1e1e"/>
<path d="M224.70,497.81 L224.70,519.29 M222.20,497.81 L227.20,497.81 M222.20,519.29 L227.20,519.29" stroke="#1e1e1e" stroke-width="1.4" fill="none"/>
<path d="M224.70,506.15 L227.10,508.55 L224.70,510.95 L222.30,508.55 Z" fill="#1e1e1e"/>
<line x1="123.30" y1="550.20" x2="138.60" y2="550.20" stroke="#F829CE" stroke-width="1.6"/>
<circle cx="130.95" cy="550.20" r="2.0" fill="#F829CE"/>
<text x="146.2" y="553.5" font-size="9.4" font-weight="bold" text-anchor="start" fill="#111" stroke="#111" stroke-width="0.3" >PpIX</text>
<text x="181.5" y="553.5" font-size="9.4" font-weight="bold" text-anchor="start" fill="#111" stroke="#111" stroke-width="0.3" >R<tspan font-size="6.4" dy="-3.7">2</tspan><tspan dy="3.7"> = 0.74</tspan></text>
<path d="M130.95,562.00 L133.35,564.40 L130.95,566.80 L128.55,564.40 Z" fill="#1e1e1e"/>
<text x="146.2" y="567.6999999999999" font-size="9.4" font-weight="bold" text-anchor="start" fill="#111" stroke="#111" stroke-width="0.3" ><tspan font-style="italic">UROS</tspan></text>
<text x="181.5" y="567.6999999999999" font-size="9.4" font-weight="bold" text-anchor="start" fill="#111" stroke="#111" stroke-width="0.3" >R<tspan font-size="6.4" dy="-3.7">2</tspan><tspan dy="3.7"> = NA</tspan></text>
<text x="307.4" y="426.09999999999997" font-size="10" font-weight="bold" text-anchor="start" fill="#111"  >E</text>
<rect x="416.00" y="450.60" width="85.50" height="122.20" fill="#E6E6E6"/>
<rect x="327.15" y="434.05" width="85.40" height="15.70" fill="#FCF9DA" stroke="#111" stroke-width="1.5"/>
<rect x="416.85" y="434.05" width="86.30" height="15.70" fill="#D4D4D4" stroke="#111" stroke-width="1.5"/>
<text x="369.79999999999995" y="445.2" font-size="10.1" font-weight="normal" text-anchor="middle" fill="#111" stroke="#111" stroke-width="0.55" >Light phase</text>
<text x="460.0" y="445.2" font-size="10.0" font-weight="normal" text-anchor="middle" fill="#111" stroke="#111" stroke-width="0.55" >Dark phase</text>
<path d="M315.50,442.60 L315.50,572.80 L510.80,572.80 M510.80,572.80 L510.80,442.60" fill="none" stroke="#111" stroke-width="1.7"/>
<line x1="311.30" y1="572.80" x2="315.50" y2="572.80" stroke="#111" stroke-width="1.5"/>
<text x="310.3" y="576.5999999999999" font-size="10" font-weight="bold" text-anchor="end" fill="#111" stroke="#111" stroke-width="0.2" letter-spacing="-0.2">0.0</text>
<line x1="510.80" y1="572.80" x2="515.00" y2="572.80" stroke="#111" stroke-width="1.5"/>
<text x="516.4" y="576.5999999999999" font-size="10" font-weight="bold" text-anchor="start" fill="#111" stroke="#111" stroke-width="0.2" >0</text>
<line x1="311.30" y1="540.25" x2="315.50" y2="540.25" stroke="#111" stroke-width="1.5"/>
<text x="310.3" y="544.05" font-size="10" font-weight="bold" text-anchor="end" fill="#111" stroke="#111" stroke-width="0.2" letter-spacing="-0.2">0.5</text>
<line x1="510.80" y1="540.25" x2="515.00" y2="540.25" stroke="#111" stroke-width="1.5"/>
<text x="516.4" y="544.05" font-size="10" font-weight="bold" text-anchor="start" fill="#111" stroke="#111" stroke-width="0.2" >5</text>
<line x1="311.30" y1="507.70" x2="315.50" y2="507.70" stroke="#111" stroke-width="1.5"/>
<text x="310.3" y="511.49999999999994" font-size="10" font-weight="bold" text-anchor="end" fill="#111" stroke="#111" stroke-width="0.2" letter-spacing="-0.2">1.0</text>
<line x1="510.80" y1="507.70" x2="515.00" y2="507.70" stroke="#111" stroke-width="1.5"/>
<text x="516.4" y="511.49999999999994" font-size="10" font-weight="bold" text-anchor="start" fill="#111" stroke="#111" stroke-width="0.2" >10</text>
<line x1="311.30" y1="475.15" x2="315.50" y2="475.15" stroke="#111" stroke-width="1.5"/>
<text x="310.3" y="478.95" font-size="10" font-weight="bold" text-anchor="end" fill="#111" stroke="#111" stroke-width="0.2" letter-spacing="-0.2">1.5</text>
<line x1="510.80" y1="475.15" x2="515.00" y2="475.15" stroke="#111" stroke-width="1.5"/>
<text x="516.4" y="478.95" font-size="10" font-weight="bold" text-anchor="start" fill="#111" stroke="#111" stroke-width="0.2" >15</text>
<line x1="311.30" y1="442.60" x2="315.50" y2="442.60" stroke="#111" stroke-width="1.5"/>
<text x="310.3" y="446.4" font-size="10" font-weight="bold" text-anchor="end" fill="#111" stroke="#111" stroke-width="0.2" letter-spacing="-0.2">2.0</text>
<line x1="510.80" y1="442.60" x2="515.00" y2="442.60" stroke="#111" stroke-width="1.5"/>
<text x="516.4" y="446.4" font-size="10" font-weight="bold" text-anchor="start" fill="#111" stroke="#111" stroke-width="0.2" >20</text>
<line x1="329.90" y1="572.80" x2="329.90" y2="577.20" stroke="#111" stroke-width="1.5"/>
<text x="329.9" y="588.1999999999999" font-size="10.2" font-weight="bold" text-anchor="middle" fill="#111" stroke="#111" stroke-width="0.2" letter-spacing="0">0</text>
<line x1="358.80" y1="572.80" x2="358.80" y2="577.20" stroke="#111" stroke-width="1.5"/>
<text x="358.79999999999995" y="588.1999999999999" font-size="10.2" font-weight="bold" text-anchor="middle" fill="#111" stroke="#111" stroke-width="0.2" letter-spacing="0">4</text>
<line x1="387.70" y1="572.80" x2="387.70" y2="577.20" stroke="#111" stroke-width="1.5"/>
<text x="387.7" y="588.1999999999999" font-size="10.2" font-weight="bold" text-anchor="middle" fill="#111" stroke="#111" stroke-width="0.2" letter-spacing="0">8</text>
<line x1="416.60" y1="572.80" x2="416.60" y2="577.20" stroke="#111" stroke-width="1.5"/>
<text x="417.2" y="588.1999999999999" font-size="10.2" font-weight="bold" text-anchor="middle" fill="#111" stroke="#111" stroke-width="0.2" letter-spacing="-1.2">12</text>
<line x1="445.50" y1="572.80" x2="445.50" y2="577.20" stroke="#111" stroke-width="1.5"/>
<text x="446.1" y="588.1999999999999" font-size="10.2" font-weight="bold" text-anchor="middle" fill="#111" stroke="#111" stroke-width="0.2" letter-spacing="-1.2">16</text>
<line x1="474.40" y1="572.80" x2="474.40" y2="577.20" stroke="#111" stroke-width="1.5"/>
<text x="475.0" y="588.1999999999999" font-size="10.2" font-weight="bold" text-anchor="middle" fill="#111" stroke="#111" stroke-width="0.2" letter-spacing="-1.2">20</text>
<line x1="503.30" y1="572.80" x2="503.30" y2="577.20" stroke="#111" stroke-width="1.5"/>
<text x="503.9" y="588.1999999999999" font-size="10.2" font-weight="bold" text-anchor="middle" fill="#111" stroke="#111" stroke-width="0.2" letter-spacing="-1.2">24</text>
<text x="412.79999999999995" y="600.0999999999999" font-size="9.7" font-weight="bold" text-anchor="middle" fill="#111" stroke="#111" stroke-width="0.3" >ZT (h)</text>
<text transform="translate(290.60,507.10) rotate(-90)" font-size="8.4" letter-spacing="0.7" font-weight="bold" text-anchor="middle" fill="#111" stroke="#111" stroke-width="0.15">mRNA levels of <tspan font-style="italic">UROD</tspan></text>
<text transform="translate(536.70,507.50) rotate(90)" font-size="8.9" letter-spacing="0.3" font-weight="bold" text-anchor="middle" fill="#111" stroke="#111" stroke-width="0.15">PPIX (ng/mg tissue)</text>
<path d="M329.90,499.56 C332.31,501.03 339.53,505.64 344.35,508.35 C349.17,511.06 353.98,513.61 358.80,515.84 C363.62,518.06 368.43,520.04 373.25,521.70 C378.07,523.36 382.88,524.88 387.70,525.80 C392.52,526.72 397.33,527.21 402.15,527.23 C406.97,527.25 411.78,527.01 416.60,525.93 C421.42,524.84 426.23,522.84 431.05,520.72 C435.87,518.60 440.68,515.84 445.50,513.23 C450.32,510.63 455.13,507.75 459.95,505.10 C464.77,502.44 469.58,499.94 474.40,497.28 C479.22,494.63 484.03,491.59 488.85,489.15 C493.67,486.71 500.89,483.72 503.30,482.64" fill="none" stroke="#F829CE" stroke-width="1.9"/>
<path d="M329.90,484.91 L329.90,514.21 M327.40,484.91 L332.40,484.91 M327.40,514.21 L332.40,514.21" stroke="#F829CE" stroke-width="1.4" fill="none"/>
<circle cx="329.90" cy="499.56" r="2.0" fill="#F829CE"/>
<path d="M358.80,505.75 L358.80,522.02 M356.30,505.75 L361.30,505.75 M356.30,522.02 L361.30,522.02" stroke="#F829CE" stroke-width="1.4" fill="none"/>
<circle cx="358.80" cy="513.88" r="2.0" fill="#F829CE"/>
<circle cx="387.70" cy="533.74" r="2.0" fill="#F829CE"/>
<path d="M416.60,516.49 L416.60,528.21 M414.10,516.49 L419.10,516.49 M414.10,528.21 L419.10,528.21" stroke="#F829CE" stroke-width="1.4" fill="none"/>
<circle cx="416.60" cy="522.35" r="2.0" fill="#F829CE"/>
<path d="M445.50,504.77 L445.50,513.88 M443.00,504.77 L448.00,504.77 M443.00,513.88 L448.00,513.88" stroke="#F829CE" stroke-width="1.4" fill="none"/>
<circle cx="445.50" cy="509.33" r="2.0" fill="#F829CE"/>
<path d="M474.40,493.38 L474.40,512.26 M471.90,493.38 L476.90,493.38 M471.90,512.26 L476.90,512.26" stroke="#F829CE" stroke-width="1.4" fill="none"/>
<circle cx="474.40" cy="502.82" r="2.0" fill="#F829CE"/>
<path d="M503.30,467.66 L503.30,496.31 M500.80,467.66 L505.80,467.66 M500.80,496.31 L505.80,496.31" stroke="#F829CE" stroke-width="1.4" fill="none"/>
<circle cx="503.30" cy="481.99" r="2.0" fill="#F829CE"/>
<path d="M329.90,492.40 L329.90,511.28 M327.40,492.40 L332.40,492.40 M327.40,511.28 L332.40,511.28" stroke="#1e1e1e" stroke-width="1.4" fill="none"/>
<path d="M329.90,499.44 L332.30,501.84 L329.90,504.24 L327.50,501.84 Z" fill="#1e1e1e"/>
<path d="M358.80,512.91 L358.80,528.53 M356.30,512.91 L361.30,512.91 M356.30,528.53 L361.30,528.53" stroke="#1e1e1e" stroke-width="1.4" fill="none"/>
<path d="M358.80,518.32 L361.20,520.72 L358.80,523.12 L356.40,520.72 Z" fill="#1e1e1e"/>
<path d="M387.70,502.82 L387.70,515.19 M385.20,502.82 L390.20,502.82 M385.20,515.19 L390.20,515.19" stroke="#1e1e1e" stroke-width="1.4" fill="none"/>
<path d="M387.70,506.60 L390.10,509.00 L387.70,511.40 L385.30,509.00 Z" fill="#1e1e1e"/>
<path d="M416.60,477.10 L416.60,492.73 M414.10,477.10 L419.10,477.10 M414.10,492.73 L419.10,492.73" stroke="#1e1e1e" stroke-width="1.4" fill="none"/>
<path d="M416.60,482.51 L419.00,484.91 L416.60,487.31 L414.20,484.91 Z" fill="#1e1e1e"/>
<path d="M445.50,469.62 L445.50,498.91 M443.00,469.62 L448.00,469.62 M443.00,498.91 L448.00,498.91" stroke="#1e1e1e" stroke-width="1.4" fill="none"/>
<path d="M445.50,481.86 L447.90,484.26 L445.50,486.66 L443.10,484.26 Z" fill="#1e1e1e"/>
<path d="M474.40,511.74 L474.40,525.15 M471.90,511.74 L476.90,511.74 M471.90,525.15 L476.90,525.15" stroke="#1e1e1e" stroke-width="1.4" fill="none"/>
<path d="M474.40,516.04 L476.80,518.44 L474.40,520.84 L472.00,518.44 Z" fill="#1e1e1e"/>
<path d="M503.30,517.07 L503.30,533.09 M500.80,517.07 L505.80,517.07 M500.80,533.09 L505.80,533.09" stroke="#1e1e1e" stroke-width="1.4" fill="none"/>
<path d="M503.30,522.68 L505.70,525.08 L503.30,527.48 L500.90,525.08 Z" fill="#1e1e1e"/>
<line x1="400.70" y1="549.50" x2="415.60" y2="549.50" stroke="#F829CE" stroke-width="1.6"/>
<circle cx="408.15" cy="549.50" r="2.0" fill="#F829CE"/>
<text x="424.3" y="552.8" font-size="9.4" font-weight="bold" text-anchor="start" fill="#111" stroke="#111" stroke-width="0.3" >PpIX</text>
<text x="458.5" y="552.8" font-size="9.4" font-weight="bold" text-anchor="start" fill="#111" stroke="#111" stroke-width="0.3" >R<tspan font-size="6.4" dy="-3.7">2</tspan><tspan dy="3.7"> = 0.74</tspan></text>
<path d="M408.15,561.30 L410.55,563.70 L408.15,566.10 L405.75,563.70 Z" fill="#1e1e1e"/>
<text x="424.3" y="567.0" font-size="9.4" font-weight="bold" text-anchor="start" fill="#111" stroke="#111" stroke-width="0.3" ><tspan font-style="italic">UROD</tspan></text>
<text x="458.5" y="567.0" font-size="9.4" font-weight="bold" text-anchor="start" fill="#111" stroke="#111" stroke-width="0.3" >R<tspan font-size="6.4" dy="-3.7">2</tspan><tspan dy="3.7"> = NA</tspan></text>
<text x="29.7" y="618.0999999999999" font-size="10" font-weight="bold" text-anchor="start" fill="#111"  >F</text>
<rect x="138.30" y="642.60" width="85.50" height="122.20" fill="#E6E6E6"/>
<rect x="49.45" y="626.05" width="85.40" height="15.70" fill="#FCF9DA" stroke="#111" stroke-width="1.5"/>
<rect x="139.15" y="626.05" width="86.30" height="15.70" fill="#D4D4D4" stroke="#111" stroke-width="1.5"/>
<text x="92.1" y="637.1999999999999" font-size="10.1" font-weight="normal" text-anchor="middle" fill="#111" stroke="#111" stroke-width="0.55" >Light phase</text>
<text x="182.3" y="637.1999999999999" font-size="10.0" font-weight="normal" text-anchor="middle" fill="#111" stroke="#111" stroke-width="0.55" >Dark phase</text>
<path d="M37.80,634.60 L37.80,764.80 L233.10,764.80 M233.10,764.80 L233.10,634.60" fill="none" stroke="#111" stroke-width="1.7"/>
<line x1="33.60" y1="764.80" x2="37.80" y2="764.80" stroke="#111" stroke-width="1.5"/>
<text x="32.599999999999994" y="768.5999999999999" font-size="10" font-weight="bold" text-anchor="end" fill="#111" stroke="#111" stroke-width="0.2" letter-spacing="-0.2">0.0</text>
<line x1="233.10" y1="764.80" x2="237.30" y2="764.80" stroke="#111" stroke-width="1.5"/>
<text x="238.7" y="768.5999999999999" font-size="10" font-weight="bold" text-anchor="start" fill="#111" stroke="#111" stroke-width="0.2" >0</text>
<line x1="33.60" y1="732.25" x2="37.80" y2="732.25" stroke="#111" stroke-width="1.5"/>
<text x="32.599999999999994" y="736.05" font-size="10" font-weight="bold" text-anchor="end" fill="#111" stroke="#111" stroke-width="0.2" letter-spacing="-0.2">0.5</text>
<line x1="233.10" y1="732.25" x2="237.30" y2="732.25" stroke="#111" stroke-width="1.5"/>
<text x="238.7" y="736.05" font-size="10" font-weight="bold" text-anchor="start" fill="#111" stroke="#111" stroke-width="0.2" >5</text>
<line x1="33.60" y1="699.70" x2="37.80" y2="699.70" stroke="#111" stroke-width="1.5"/>
<text x="32.599999999999994" y="703.4999999999999" font-size="10" font-weight="bold" text-anchor="end" fill="#111" stroke="#111" stroke-width="0.2" letter-spacing="-0.2">1.0</text>
<line x1="233.10" y1="699.70" x2="237.30" y2="699.70" stroke="#111" stroke-width="1.5"/>
<text x="238.7" y="703.4999999999999" font-size="10" font-weight="bold" text-anchor="start" fill="#111" stroke="#111" stroke-width="0.2" >10</text>
<line x1="33.60" y1="667.15" x2="37.80" y2="667.15" stroke="#111" stroke-width="1.5"/>
<text x="32.599999999999994" y="670.9499999999999" font-size="10" font-weight="bold" text-anchor="end" fill="#111" stroke="#111" stroke-width="0.2" letter-spacing="-0.2">1.5</text>
<line x1="233.10" y1="667.15" x2="237.30" y2="667.15" stroke="#111" stroke-width="1.5"/>
<text x="238.7" y="670.9499999999999" font-size="10" font-weight="bold" text-anchor="start" fill="#111" stroke="#111" stroke-width="0.2" >15</text>
<line x1="33.60" y1="634.60" x2="37.80" y2="634.60" stroke="#111" stroke-width="1.5"/>
<text x="32.599999999999994" y="638.3999999999999" font-size="10" font-weight="bold" text-anchor="end" fill="#111" stroke="#111" stroke-width="0.2" letter-spacing="-0.2">2.0</text>
<line x1="233.10" y1="634.60" x2="237.30" y2="634.60" stroke="#111" stroke-width="1.5"/>
<text x="238.7" y="638.3999999999999" font-size="10" font-weight="bold" text-anchor="start" fill="#111" stroke="#111" stroke-width="0.2" >20</text>
<line x1="52.20" y1="764.80" x2="52.20" y2="769.20" stroke="#111" stroke-width="1.5"/>
<text x="52.2" y="780.1999999999999" font-size="10.2" font-weight="bold" text-anchor="middle" fill="#111" stroke="#111" stroke-width="0.2" letter-spacing="0">0</text>
<line x1="81.10" y1="764.80" x2="81.10" y2="769.20" stroke="#111" stroke-width="1.5"/>
<text x="81.1" y="780.1999999999999" font-size="10.2" font-weight="bold" text-anchor="middle" fill="#111" stroke="#111" stroke-width="0.2" letter-spacing="0">4</text>
<line x1="110.00" y1="764.80" x2="110.00" y2="769.20" stroke="#111" stroke-width="1.5"/>
<text x="110.0" y="780.1999999999999" font-size="10.2" font-weight="bold" text-anchor="middle" fill="#111" stroke="#111" stroke-width="0.2" letter-spacing="0">8</text>
<line x1="138.90" y1="764.80" x2="138.90" y2="769.20" stroke="#111" stroke-width="1.5"/>
<text x="139.49999999999997" y="780.1999999999999" font-size="10.2" font-weight="bold" text-anchor="middle" fill="#111" stroke="#111" stroke-width="0.2" letter-spacing="-1.2">12</text>
<line x1="167.80" y1="764.80" x2="167.80" y2="769.20" stroke="#111" stroke-width="1.5"/>
<text x="168.4" y="780.1999999999999" font-size="10.2" font-weight="bold" text-anchor="middle" fill="#111" stroke="#111" stroke-width="0.2" letter-spacing="-1.2">16</text>
<line x1="196.70" y1="764.80" x2="196.70" y2="769.20" stroke="#111" stroke-width="1.5"/>
<text x="197.29999999999998" y="780.1999999999999" font-size="10.2" font-weight="bold" text-anchor="middle" fill="#111" stroke="#111" stroke-width="0.2" letter-spacing="-1.2">20</text>
<line x1="225.60" y1="764.80" x2="225.60" y2="769.20" stroke="#111" stroke-width="1.5"/>
<text x="226.19999999999996" y="780.1999999999999" font-size="10.2" font-weight="bold" text-anchor="middle" fill="#111" stroke="#111" stroke-width="0.2" letter-spacing="-1.2">24</text>
<text x="135.1" y="792.0999999999999" font-size="9.7" font-weight="bold" text-anchor="middle" fill="#111" stroke="#111" stroke-width="0.3" >ZT (h)</text>
<text transform="translate(12.90,699.10) rotate(-90)" font-size="8.4" letter-spacing="0.7" font-weight="bold" text-anchor="middle" fill="#111" stroke="#111" stroke-width="0.15">mRNA levels of <tspan font-style="italic">CPOX</tspan></text>
<text transform="translate(259.00,699.50) rotate(90)" font-size="8.9" letter-spacing="0.3" font-weight="bold" text-anchor="middle" fill="#111" stroke="#111" stroke-width="0.15">PPIX (ng/mg tissue)</text>
<path d="M52.20,691.56 C54.61,693.03 61.83,697.64 66.65,700.35 C71.47,703.06 76.28,705.61 81.10,707.84 C85.92,710.06 90.73,712.04 95.55,713.70 C100.37,715.36 105.18,716.88 110.00,717.80 C114.82,718.72 119.63,719.21 124.45,719.23 C129.27,719.25 134.08,719.01 138.90,717.93 C143.72,716.84 148.53,714.84 153.35,712.72 C158.17,710.60 162.98,707.84 167.80,705.23 C172.62,702.63 177.43,699.75 182.25,697.10 C187.07,694.44 191.88,691.94 196.70,689.28 C201.52,686.63 206.33,683.59 211.15,681.15 C215.97,678.71 223.19,675.72 225.60,674.64" fill="none" stroke="#F829CE" stroke-width="1.9"/>
<path d="M52.20,676.91 L52.20,706.21 M49.70,676.91 L54.70,676.91 M49.70,706.21 L54.70,706.21" stroke="#F829CE" stroke-width="1.4" fill="none"/>
<circle cx="52.20" cy="691.56" r="2.0" fill="#F829CE"/>
<path d="M81.10,697.75 L81.10,714.02 M78.60,697.75 L83.60,697.75 M78.60,714.02 L83.60,714.02" stroke="#F829CE" stroke-width="1.4" fill="none"/>
<circle cx="81.10" cy="705.88" r="2.0" fill="#F829CE"/>
<circle cx="110.00" cy="725.74" r="2.0" fill="#F829CE"/>
<path d="M138.90,708.49 L138.90,720.21 M136.40,708.49 L141.40,708.49 M136.40,720.21 L141.40,720.21" stroke="#F829CE" stroke-width="1.4" fill="none"/>
<circle cx="138.90" cy="714.35" r="2.0" fill="#F829CE"/>
<path d="M167.80,696.77 L167.80,705.88 M165.30,696.77 L170.30,696.77 M165.30,705.88 L170.30,705.88" stroke="#F829CE" stroke-width="1.4" fill="none"/>
<circle cx="167.80" cy="701.33" r="2.0" fill="#F829CE"/>
<path d="M196.70,685.38 L196.70,704.26 M194.20,685.38 L199.20,685.38 M194.20,704.26 L199.20,704.26" stroke="#F829CE" stroke-width="1.4" fill="none"/>
<circle cx="196.70" cy="694.82" r="2.0" fill="#F829CE"/>
<path d="M225.60,659.66 L225.60,688.31 M223.10,659.66 L228.10,659.66 M223.10,688.31 L228.10,688.31" stroke="#F829CE" stroke-width="1.4" fill="none"/>
<circle cx="225.60" cy="673.99" r="2.0" fill="#F829CE"/>
<path d="M52.20,738.76 C54.61,736.81 61.83,731.16 66.65,727.04 C71.47,722.92 76.28,718.04 81.10,714.02 C85.92,710.01 90.73,706.43 95.55,702.95 C100.37,699.48 105.18,696.34 110.00,693.19 C114.82,690.04 119.63,686.57 124.45,684.08 C129.27,681.58 134.08,679.52 138.90,678.22 C143.72,676.91 148.53,675.94 153.35,676.26 C158.17,676.59 162.98,678.22 167.80,680.17 C172.62,682.12 177.43,684.94 182.25,687.98 C187.07,691.02 191.88,694.60 196.70,698.40 C201.52,702.20 206.33,706.32 211.15,710.77 C215.97,715.22 223.19,722.70 225.60,725.09" fill="none" stroke="#1e1e1e" stroke-width="1.4"/>
<circle cx="52.20" cy="738.76" r="2.1" fill="#1e1e1e"/>
<path d="M81.10,691.89 L81.10,742.67 M78.60,691.89 L83.60,691.89 M78.60,742.67 L83.60,742.67" stroke="#1e1e1e" stroke-width="1.4" fill="none"/>
<circle cx="81.10" cy="717.28" r="2.1" fill="#1e1e1e"/>
<path d="M110.00,685.70 L110.00,700.68 M107.50,685.70 L112.50,685.70 M107.50,700.68 L112.50,700.68" stroke="#1e1e1e" stroke-width="1.4" fill="none"/>
<circle cx="110.00" cy="693.19" r="2.1" fill="#1e1e1e"/>
<path d="M138.90,653.93 L138.90,669.95 M136.40,653.93 L141.40,653.93 M136.40,669.95 L141.40,669.95" stroke="#1e1e1e" stroke-width="1.4" fill="none"/>
<circle cx="138.90" cy="661.94" r="2.1" fill="#1e1e1e"/>
<path d="M167.80,689.28 L167.80,710.12 M165.30,689.28 L170.30,689.28 M165.30,710.12 L170.30,710.12" stroke="#1e1e1e" stroke-width="1.4" fill="none"/>
<circle cx="167.80" cy="699.70" r="2.1" fill="#1e1e1e"/>
<path d="M196.70,685.83 L196.70,699.24 M194.20,685.83 L199.20,685.83 M194.20,699.24 L199.20,699.24" stroke="#1e1e1e" stroke-width="1.4" fill="none"/>
<circle cx="196.70" cy="692.54" r="2.1" fill="#1e1e1e"/>
<path d="M225.60,720.08 L225.60,730.10 M223.10,720.08 L228.10,720.08 M223.10,730.10 L228.10,730.10" stroke="#1e1e1e" stroke-width="1.4" fill="none"/>
<circle cx="225.60" cy="725.09" r="2.1" fill="#1e1e1e"/>
<line x1="121.10" y1="741.40" x2="137.90" y2="741.40" stroke="#F829CE" stroke-width="1.6"/>
<circle cx="129.50" cy="741.40" r="2.0" fill="#F829CE"/>
<text x="145.1" y="744.6999999999999" font-size="9.4" font-weight="bold" text-anchor="start" fill="#111" stroke="#111" stroke-width="0.3" >PpIX</text>
<text x="179.8" y="744.6999999999999" font-size="9.4" font-weight="bold" text-anchor="start" fill="#111" stroke="#111" stroke-width="0.3" >R<tspan font-size="6.4" dy="-3.7">2</tspan><tspan dy="3.7"> = 0.74</tspan></text>
<line x1="121.10" y1="755.10" x2="137.90" y2="755.10" stroke="#1e1e1e" stroke-width="1.4"/>
<circle cx="129.50" cy="755.10" r="2.0" fill="#1e1e1e"/>
<text x="145.1" y="758.4" font-size="9.4" font-weight="bold" text-anchor="start" fill="#111" stroke="#111" stroke-width="0.3" ><tspan font-style="italic">CPOX</tspan></text>
<text x="179.8" y="758.4" font-size="9.4" font-weight="bold" text-anchor="start" fill="#111" stroke="#111" stroke-width="0.3" >R<tspan font-size="6.4" dy="-3.7">2</tspan><tspan dy="3.7"> = 0.73</tspan></text>
<text x="307.4" y="618.0" font-size="10" font-weight="bold" text-anchor="start" fill="#111"  >G</text>
<rect x="416.00" y="642.50" width="85.50" height="122.20" fill="#E6E6E6"/>
<rect x="327.15" y="625.95" width="85.40" height="15.70" fill="#FCF9DA" stroke="#111" stroke-width="1.5"/>
<rect x="416.85" y="625.95" width="86.30" height="15.70" fill="#D4D4D4" stroke="#111" stroke-width="1.5"/>
<text x="369.79999999999995" y="637.1" font-size="10.1" font-weight="normal" text-anchor="middle" fill="#111" stroke="#111" stroke-width="0.55" >Light phase</text>
<text x="460.0" y="637.1" font-size="10.0" font-weight="normal" text-anchor="middle" fill="#111" stroke="#111" stroke-width="0.55" >Dark phase</text>
<path d="M315.50,634.50 L315.50,764.70 L510.80,764.70 M510.80,764.70 L510.80,634.50" fill="none" stroke="#111" stroke-width="1.7"/>
<line x1="311.30" y1="764.70" x2="315.50" y2="764.70" stroke="#111" stroke-width="1.5"/>
<text x="310.3" y="768.5" font-size="10" font-weight="bold" text-anchor="end" fill="#111" stroke="#111" stroke-width="0.2" letter-spacing="-0.2">0.0</text>
<line x1="510.80" y1="764.70" x2="515.00" y2="764.70" stroke="#111" stroke-width="1.5"/>
<text x="516.4" y="768.5" font-size="10" font-weight="bold" text-anchor="start" fill="#111" stroke="#111" stroke-width="0.2" >0</text>
<line x1="311.30" y1="732.15" x2="315.50" y2="732.15" stroke="#111" stroke-width="1.5"/>
<text x="310.3" y="735.95" font-size="10" font-weight="bold" text-anchor="end" fill="#111" stroke="#111" stroke-width="0.2" letter-spacing="-0.2">0.5</text>
<line x1="510.80" y1="732.15" x2="515.00" y2="732.15" stroke="#111" stroke-width="1.5"/>
<text x="516.4" y="735.95" font-size="10" font-weight="bold" text-anchor="start" fill="#111" stroke="#111" stroke-width="0.2" >5</text>
<line x1="311.30" y1="699.60" x2="315.50" y2="699.60" stroke="#111" stroke-width="1.5"/>
<text x="310.3" y="703.4" font-size="10" font-weight="bold" text-anchor="end" fill="#111" stroke="#111" stroke-width="0.2" letter-spacing="-0.2">1.0</text>
<line x1="510.80" y1="699.60" x2="515.00" y2="699.60" stroke="#111" stroke-width="1.5"/>
<text x="516.4" y="703.4" font-size="10" font-weight="bold" text-anchor="start" fill="#111" stroke="#111" stroke-width="0.2" >10</text>
<line x1="311.30" y1="667.05" x2="315.50" y2="667.05" stroke="#111" stroke-width="1.5"/>
<text x="310.3" y="670.85" font-size="10" font-weight="bold" text-anchor="end" fill="#111" stroke="#111" stroke-width="0.2" letter-spacing="-0.2">1.5</text>
<line x1="510.80" y1="667.05" x2="515.00" y2="667.05" stroke="#111" stroke-width="1.5"/>
<text x="516.4" y="670.85" font-size="10" font-weight="bold" text-anchor="start" fill="#111" stroke="#111" stroke-width="0.2" >15</text>
<line x1="311.30" y1="634.50" x2="315.50" y2="634.50" stroke="#111" stroke-width="1.5"/>
<text x="310.3" y="638.3" font-size="10" font-weight="bold" text-anchor="end" fill="#111" stroke="#111" stroke-width="0.2" letter-spacing="-0.2">2.0</text>
<line x1="510.80" y1="634.50" x2="515.00" y2="634.50" stroke="#111" stroke-width="1.5"/>
<text x="516.4" y="638.3" font-size="10" font-weight="bold" text-anchor="start" fill="#111" stroke="#111" stroke-width="0.2" >20</text>
<line x1="329.90" y1="764.70" x2="329.90" y2="769.10" stroke="#111" stroke-width="1.5"/>
<text x="329.9" y="780.1" font-size="10.2" font-weight="bold" text-anchor="middle" fill="#111" stroke="#111" stroke-width="0.2" letter-spacing="0">0</text>
<line x1="358.80" y1="764.70" x2="358.80" y2="769.10" stroke="#111" stroke-width="1.5"/>
<text x="358.79999999999995" y="780.1" font-size="10.2" font-weight="bold" text-anchor="middle" fill="#111" stroke="#111" stroke-width="0.2" letter-spacing="0">4</text>
<line x1="387.70" y1="764.70" x2="387.70" y2="769.10" stroke="#111" stroke-width="1.5"/>
<text x="387.7" y="780.1" font-size="10.2" font-weight="bold" text-anchor="middle" fill="#111" stroke="#111" stroke-width="0.2" letter-spacing="0">8</text>
<line x1="416.60" y1="764.70" x2="416.60" y2="769.10" stroke="#111" stroke-width="1.5"/>
<text x="417.2" y="780.1" font-size="10.2" font-weight="bold" text-anchor="middle" fill="#111" stroke="#111" stroke-width="0.2" letter-spacing="-1.2">12</text>
<line x1="445.50" y1="764.70" x2="445.50" y2="769.10" stroke="#111" stroke-width="1.5"/>
<text x="446.1" y="780.1" font-size="10.2" font-weight="bold" text-anchor="middle" fill="#111" stroke="#111" stroke-width="0.2" letter-spacing="-1.2">16</text>
<line x1="474.40" y1="764.70" x2="474.40" y2="769.10" stroke="#111" stroke-width="1.5"/>
<text x="475.0" y="780.1" font-size="10.2" font-weight="bold" text-anchor="middle" fill="#111" stroke="#111" stroke-width="0.2" letter-spacing="-1.2">20</text>
<line x1="503.30" y1="764.70" x2="503.30" y2="769.10" stroke="#111" stroke-width="1.5"/>
<text x="503.9" y="780.1" font-size="10.2" font-weight="bold" text-anchor="middle" fill="#111" stroke="#111" stroke-width="0.2" letter-spacing="-1.2">24</text>
<text x="412.79999999999995" y="792.0" font-size="9.7" font-weight="bold" text-anchor="middle" fill="#111" stroke="#111" stroke-width="0.3" >ZT (h)</text>
<text transform="translate(290.60,699.00) rotate(-90)" font-size="8.4" letter-spacing="0.7" font-weight="bold" text-anchor="middle" fill="#111" stroke="#111" stroke-width="0.15">mRNA levels of <tspan font-style="italic">PPOX</tspan></text>
<text transform="translate(536.70,699.40) rotate(90)" font-size="8.9" letter-spacing="0.3" font-weight="bold" text-anchor="middle" fill="#111" stroke="#111" stroke-width="0.15">PPIX (ng/mg tissue)</text>
<path d="M329.90,691.46 C332.31,692.93 339.53,697.54 344.35,700.25 C349.17,702.96 353.98,705.51 358.80,707.74 C363.62,709.96 368.43,711.94 373.25,713.60 C378.07,715.26 382.88,716.78 387.70,717.70 C392.52,718.62 397.33,719.11 402.15,719.13 C406.97,719.15 411.78,718.91 416.60,717.83 C421.42,716.74 426.23,714.74 431.05,712.62 C435.87,710.50 440.68,707.74 445.50,705.13 C450.32,702.53 455.13,699.65 459.95,697.00 C464.77,694.34 469.58,691.84 474.40,689.18 C479.22,686.53 484.03,683.49 488.85,681.05 C493.67,678.61 500.89,675.62 503.30,674.54" fill="none" stroke="#F829CE" stroke-width="1.9"/>
<path d="M329.90,676.82 L329.90,706.11 M327.40,676.82 L332.40,676.82 M327.40,706.11 L332.40,706.11" stroke="#F829CE" stroke-width="1.4" fill="none"/>
<circle cx="329.90" cy="691.46" r="2.0" fill="#F829CE"/>
<path d="M358.80,697.65 L358.80,713.92 M356.30,697.65 L361.30,697.65 M356.30,713.92 L361.30,713.92" stroke="#F829CE" stroke-width="1.4" fill="none"/>
<circle cx="358.80" cy="705.78" r="2.0" fill="#F829CE"/>
<circle cx="387.70" cy="725.64" r="2.0" fill="#F829CE"/>
<path d="M416.60,708.39 L416.60,720.11 M414.10,708.39 L419.10,708.39 M414.10,720.11 L419.10,720.11" stroke="#F829CE" stroke-width="1.4" fill="none"/>
<circle cx="416.60" cy="714.25" r="2.0" fill="#F829CE"/>
<path d="M445.50,696.67 L445.50,705.78 M443.00,696.67 L448.00,696.67 M443.00,705.78 L448.00,705.78" stroke="#F829CE" stroke-width="1.4" fill="none"/>
<circle cx="445.50" cy="701.23" r="2.0" fill="#F829CE"/>
<path d="M474.40,685.28 L474.40,704.16 M471.90,685.28 L476.90,685.28 M471.90,704.16 L476.90,704.16" stroke="#F829CE" stroke-width="1.4" fill="none"/>
<circle cx="474.40" cy="694.72" r="2.0" fill="#F829CE"/>
<path d="M503.30,659.56 L503.30,688.21 M500.80,659.56 L505.80,659.56 M500.80,688.21 L505.80,688.21" stroke="#F829CE" stroke-width="1.4" fill="none"/>
<circle cx="503.30" cy="673.89" r="2.0" fill="#F829CE"/>
<path d="M329.90,678.77 L329.90,695.69 M327.40,678.77 L332.40,678.77 M327.40,695.69 L332.40,695.69" stroke="#1e1e1e" stroke-width="1.4" fill="none"/>
<path d="M329.90,684.83 L332.30,687.23 L329.90,689.63 L327.50,687.23 Z" fill="#1e1e1e"/>
<path d="M358.80,674.86 L358.80,687.88 M356.30,674.86 L361.30,674.86 M356.30,687.88 L361.30,687.88" stroke="#1e1e1e" stroke-width="1.4" fill="none"/>
<path d="M358.80,678.97 L361.20,681.37 L358.80,683.77 L356.40,681.37 Z" fill="#1e1e1e"/>
<path d="M387.70,694.26 L387.70,704.94 M385.20,694.26 L390.20,694.26 M385.20,704.94 L390.20,704.94" stroke="#1e1e1e" stroke-width="1.4" fill="none"/>
<path d="M387.70,697.20 L390.10,699.60 L387.70,702.00 L385.30,699.60 Z" fill="#1e1e1e"/>
<path d="M416.60,726.10 L416.60,739.51 M414.10,726.10 L419.10,726.10 M414.10,739.51 L419.10,739.51" stroke="#1e1e1e" stroke-width="1.4" fill="none"/>
<path d="M416.60,730.40 L419.00,732.80 L416.60,735.20 L414.20,732.80 Z" fill="#1e1e1e"/>
<path d="M445.50,682.67 L445.50,698.30 M443.00,682.67 L448.00,682.67 M443.00,698.30 L448.00,698.30" stroke="#1e1e1e" stroke-width="1.4" fill="none"/>
<path d="M445.50,688.09 L447.90,690.49 L445.50,692.89 L443.10,690.49 Z" fill="#1e1e1e"/>
<path d="M474.40,672.78 L474.40,684.76 M471.90,672.78 L476.90,672.78 M471.90,684.76 L476.90,684.76" stroke="#1e1e1e" stroke-width="1.4" fill="none"/>
<path d="M474.40,676.37 L476.80,678.77 L474.40,681.17 L472.00,678.77 Z" fill="#1e1e1e"/>
<path d="M503.30,677.34 L503.30,688.01 M500.80,677.34 L505.80,677.34 M500.80,688.01 L505.80,688.01" stroke="#1e1e1e" stroke-width="1.4" fill="none"/>
<path d="M503.30,680.27 L505.70,682.67 L503.30,685.07 L500.90,682.67 Z" fill="#1e1e1e"/>
<line x1="400.70" y1="742.90" x2="414.90" y2="742.90" stroke="#F829CE" stroke-width="1.6"/>
<circle cx="407.80" cy="742.90" r="2.0" fill="#F829CE"/>
<text x="423.2" y="746.2" font-size="9.4" font-weight="bold" text-anchor="start" fill="#111" stroke="#111" stroke-width="0.3" >PpIX</text>
<text x="457.5" y="746.2" font-size="9.4" font-weight="bold" text-anchor="start" fill="#111" stroke="#111" stroke-width="0.3" >R<tspan font-size="6.4" dy="-3.7">2</tspan><tspan dy="3.7"> = 0.74</tspan></text>
<path d="M407.80,754.00 L410.20,756.40 L407.80,758.80 L405.40,756.40 Z" fill="#1e1e1e"/>
<text x="423.2" y="759.7" font-size="9.4" font-weight="bold" text-anchor="start" fill="#111" stroke="#111" stroke-width="0.3" ><tspan font-style="italic">PROX</tspan></text>
<text x="457.5" y="759.7" font-size="9.4" font-weight="bold" text-anchor="start" fill="#111" stroke="#111" stroke-width="0.3" >R<tspan font-size="6.4" dy="-3.7">2</tspan><tspan dy="3.7"> = NA</tspan></text>
<text x="29.7" y="808.0" font-size="10" font-weight="bold" text-anchor="start" fill="#111"  >H</text>
<rect x="138.30" y="832.50" width="85.50" height="122.20" fill="#E6E6E6"/>
<rect x="49.45" y="815.95" width="85.40" height="15.70" fill="#FCF9DA" stroke="#111" stroke-width="1.5"/>
<rect x="139.15" y="815.95" width="86.30" height="15.70" fill="#D4D4D4" stroke="#111" stroke-width="1.5"/>
<text x="92.1" y="827.1" font-size="10.1" font-weight="normal" text-anchor="middle" fill="#111" stroke="#111" stroke-width="0.55" >Light phase</text>
<text x="182.3" y="827.1" font-size="10.0" font-weight="normal" text-anchor="middle" fill="#111" stroke="#111" stroke-width="0.55" >Dark phase</text>
<path d="M37.80,824.50 L37.80,954.70 L233.10,954.70 M233.10,954.70 L233.10,824.50" fill="none" stroke="#111" stroke-width="1.7"/>
<line x1="33.60" y1="954.70" x2="37.80" y2="954.70" stroke="#111" stroke-width="1.5"/>
<text x="32.599999999999994" y="958.5" font-size="10" font-weight="bold" text-anchor="end" fill="#111" stroke="#111" stroke-width="0.2" letter-spacing="-0.2">0.0</text>
<line x1="233.10" y1="954.70" x2="237.30" y2="954.70" stroke="#111" stroke-width="1.5"/>
<text x="238.7" y="958.5" font-size="10" font-weight="bold" text-anchor="start" fill="#111" stroke="#111" stroke-width="0.2" >0</text>
<line x1="33.60" y1="922.15" x2="37.80" y2="922.15" stroke="#111" stroke-width="1.5"/>
<text x="32.599999999999994" y="925.95" font-size="10" font-weight="bold" text-anchor="end" fill="#111" stroke="#111" stroke-width="0.2" letter-spacing="-0.2">0.5</text>
<line x1="233.10" y1="922.15" x2="237.30" y2="922.15" stroke="#111" stroke-width="1.5"/>
<text x="238.7" y="925.95" font-size="10" font-weight="bold" text-anchor="start" fill="#111" stroke="#111" stroke-width="0.2" >5</text>
<line x1="33.60" y1="889.60" x2="37.80" y2="889.60" stroke="#111" stroke-width="1.5"/>
<text x="32.599999999999994" y="893.4" font-size="10" font-weight="bold" text-anchor="end" fill="#111" stroke="#111" stroke-width="0.2" letter-spacing="-0.2">1.0</text>
<line x1="233.10" y1="889.60" x2="237.30" y2="889.60" stroke="#111" stroke-width="1.5"/>
<text x="238.7" y="893.4" font-size="10" font-weight="bold" text-anchor="start" fill="#111" stroke="#111" stroke-width="0.2" >10</text>
<line x1="33.60" y1="857.05" x2="37.80" y2="857.05" stroke="#111" stroke-width="1.5"/>
<text x="32.599999999999994" y="860.85" font-size="10" font-weight="bold" text-anchor="end" fill="#111" stroke="#111" stroke-width="0.2" letter-spacing="-0.2">1.5</text>
<line x1="233.10" y1="857.05" x2="237.30" y2="857.05" stroke="#111" stroke-width="1.5"/>
<text x="238.7" y="860.85" font-size="10" font-weight="bold" text-anchor="start" fill="#111" stroke="#111" stroke-width="0.2" >15</text>
<line x1="33.60" y1="824.50" x2="37.80" y2="824.50" stroke="#111" stroke-width="1.5"/>
<text x="32.599999999999994" y="828.3" font-size="10" font-weight="bold" text-anchor="end" fill="#111" stroke="#111" stroke-width="0.2" letter-spacing="-0.2">2.0</text>
<line x1="233.10" y1="824.50" x2="237.30" y2="824.50" stroke="#111" stroke-width="1.5"/>
<text x="238.7" y="828.3" font-size="10" font-weight="bold" text-anchor="start" fill="#111" stroke="#111" stroke-width="0.2" >20</text>
<line x1="52.20" y1="954.70" x2="52.20" y2="959.10" stroke="#111" stroke-width="1.5"/>
<text x="52.2" y="970.1" font-size="10.2" font-weight="bold" text-anchor="middle" fill="#111" stroke="#111" stroke-width="0.2" letter-spacing="0">0</text>
<line x1="81.10" y1="954.70" x2="81.10" y2="959.10" stroke="#111" stroke-width="1.5"/>
<text x="81.1" y="970.1" font-size="10.2" font-weight="bold" text-anchor="middle" fill="#111" stroke="#111" stroke-width="0.2" letter-spacing="0">4</text>
<line x1="110.00" y1="954.70" x2="110.00" y2="959.10" stroke="#111" stroke-width="1.5"/>
<text x="110.0" y="970.1" font-size="10.2" font-weight="bold" text-anchor="middle" fill="#111" stroke="#111" stroke-width="0.2" letter-spacing="0">8</text>
<line x1="138.90" y1="954.70" x2="138.90" y2="959.10" stroke="#111" stroke-width="1.5"/>
<text x="139.49999999999997" y="970.1" font-size="10.2" font-weight="bold" text-anchor="middle" fill="#111" stroke="#111" stroke-width="0.2" letter-spacing="-1.2">12</text>
<line x1="167.80" y1="954.70" x2="167.80" y2="959.10" stroke="#111" stroke-width="1.5"/>
<text x="168.4" y="970.1" font-size="10.2" font-weight="bold" text-anchor="middle" fill="#111" stroke="#111" stroke-width="0.2" letter-spacing="-1.2">16</text>
<line x1="196.70" y1="954.70" x2="196.70" y2="959.10" stroke="#111" stroke-width="1.5"/>
<text x="197.29999999999998" y="970.1" font-size="10.2" font-weight="bold" text-anchor="middle" fill="#111" stroke="#111" stroke-width="0.2" letter-spacing="-1.2">20</text>
<line x1="225.60" y1="954.70" x2="225.60" y2="959.10" stroke="#111" stroke-width="1.5"/>
<text x="226.19999999999996" y="970.1" font-size="10.2" font-weight="bold" text-anchor="middle" fill="#111" stroke="#111" stroke-width="0.2" letter-spacing="-1.2">24</text>
<text x="135.1" y="982.0" font-size="9.7" font-weight="bold" text-anchor="middle" fill="#111" stroke="#111" stroke-width="0.3" >ZT (h)</text>
<text transform="translate(12.90,889.00) rotate(-90)" font-size="8.4" letter-spacing="0.7" font-weight="bold" text-anchor="middle" fill="#111" stroke="#111" stroke-width="0.15">mRNA levels of <tspan font-style="italic">FECH</tspan></text>
<text transform="translate(259.00,889.40) rotate(90)" font-size="8.9" letter-spacing="0.3" font-weight="bold" text-anchor="middle" fill="#111" stroke="#111" stroke-width="0.15">PPIX (ng/mg tissue)</text>
<path d="M52.20,881.46 C54.61,882.93 61.83,887.54 66.65,890.25 C71.47,892.96 76.28,895.51 81.10,897.74 C85.92,899.96 90.73,901.94 95.55,903.60 C100.37,905.26 105.18,906.78 110.00,907.70 C114.82,908.62 119.63,909.11 124.45,909.13 C129.27,909.15 134.08,908.91 138.90,907.83 C143.72,906.74 148.53,904.74 153.35,902.62 C158.17,900.50 162.98,897.74 167.80,895.13 C172.62,892.53 177.43,889.65 182.25,887.00 C187.07,884.34 191.88,881.84 196.70,879.18 C201.52,876.53 206.33,873.49 211.15,871.05 C215.97,868.61 223.19,865.62 225.60,864.54" fill="none" stroke="#F829CE" stroke-width="1.9"/>
<path d="M52.20,866.82 L52.20,896.11 M49.70,866.82 L54.70,866.82 M49.70,896.11 L54.70,896.11" stroke="#F829CE" stroke-width="1.4" fill="none"/>
<circle cx="52.20" cy="881.46" r="2.0" fill="#F829CE"/>
<path d="M81.10,887.65 L81.10,903.92 M78.60,887.65 L83.60,887.65 M78.60,903.92 L83.60,903.92" stroke="#F829CE" stroke-width="1.4" fill="none"/>
<circle cx="81.10" cy="895.78" r="2.0" fill="#F829CE"/>
<circle cx="110.00" cy="915.64" r="2.0" fill="#F829CE"/>
<path d="M138.90,898.39 L138.90,910.11 M136.40,898.39 L141.40,898.39 M136.40,910.11 L141.40,910.11" stroke="#F829CE" stroke-width="1.4" fill="none"/>
<circle cx="138.90" cy="904.25" r="2.0" fill="#F829CE"/>
<path d="M167.80,886.67 L167.80,895.78 M165.30,886.67 L170.30,886.67 M165.30,895.78 L170.30,895.78" stroke="#F829CE" stroke-width="1.4" fill="none"/>
<circle cx="167.80" cy="891.23" r="2.0" fill="#F829CE"/>
<path d="M196.70,875.28 L196.70,894.16 M194.20,875.28 L199.20,875.28 M194.20,894.16 L199.20,894.16" stroke="#F829CE" stroke-width="1.4" fill="none"/>
<circle cx="196.70" cy="884.72" r="2.0" fill="#F829CE"/>
<path d="M225.60,849.56 L225.60,878.21 M223.10,849.56 L228.10,849.56 M223.10,878.21 L228.10,878.21" stroke="#F829CE" stroke-width="1.4" fill="none"/>
<circle cx="225.60" cy="863.89" r="2.0" fill="#F829CE"/>
<path d="M52.20,935.82 C54.61,935.82 61.83,936.80 66.65,935.82 C71.47,934.84 76.28,932.78 81.10,929.96 C85.92,927.14 90.73,923.02 95.55,918.90 C100.37,914.77 105.18,909.56 110.00,905.22 C114.82,900.88 119.63,896.54 124.45,892.86 C129.27,889.17 134.08,885.80 138.90,883.09 C143.72,880.38 148.53,878.04 153.35,876.58 C158.17,875.12 162.98,874.41 167.80,874.30 C172.62,874.19 177.43,874.57 182.25,875.93 C187.07,877.29 191.88,879.40 196.70,882.44 C201.52,885.48 206.33,889.71 211.15,894.16 C215.97,898.61 223.19,906.63 225.60,909.13" fill="none" stroke="#1e1e1e" stroke-width="1.4"/>
<path d="M52.20,931.26 L52.20,936.47 M49.70,931.26 L54.70,931.26 M49.70,936.47 L54.70,936.47" stroke="#1e1e1e" stroke-width="1.4" fill="none"/>
<circle cx="52.20" cy="933.87" r="2.1" fill="#1e1e1e"/>
<path d="M81.10,929.12 L81.10,942.53 M78.60,929.12 L83.60,929.12 M78.60,942.53 L83.60,942.53" stroke="#1e1e1e" stroke-width="1.4" fill="none"/>
<circle cx="81.10" cy="935.82" r="2.1" fill="#1e1e1e"/>
<path d="M110.00,890.51 L110.00,912.12 M107.50,890.51 L112.50,890.51 M107.50,912.12 L112.50,912.12" stroke="#1e1e1e" stroke-width="1.4" fill="none"/>
<circle cx="110.00" cy="901.32" r="2.1" fill="#1e1e1e"/>
<path d="M138.90,859.00 L138.90,885.04 M136.40,859.00 L141.40,859.00 M136.40,885.04 L141.40,885.04" stroke="#1e1e1e" stroke-width="1.4" fill="none"/>
<circle cx="138.90" cy="872.02" r="2.1" fill="#1e1e1e"/>
<path d="M167.80,885.69 L167.80,901.32 M165.30,885.69 L170.30,885.69 M165.30,901.32 L170.30,901.32" stroke="#1e1e1e" stroke-width="1.4" fill="none"/>
<circle cx="167.80" cy="893.51" r="2.1" fill="#1e1e1e"/>
<path d="M196.70,863.36 L196.70,876.78 M194.20,863.36 L199.20,863.36 M194.20,876.78 L199.20,876.78" stroke="#1e1e1e" stroke-width="1.4" fill="none"/>
<circle cx="196.70" cy="870.07" r="2.1" fill="#1e1e1e"/>
<path d="M225.60,907.05 L225.60,916.42 M223.10,907.05 L228.10,907.05 M223.10,916.42 L228.10,916.42" stroke="#1e1e1e" stroke-width="1.4" fill="none"/>
<circle cx="225.60" cy="911.73" r="2.1" fill="#1e1e1e"/>
<line x1="123.70" y1="931.40" x2="138.60" y2="931.40" stroke="#F829CE" stroke-width="1.6"/>
<circle cx="131.15" cy="931.40" r="2.0" fill="#F829CE"/>
<text x="146.2" y="934.7" font-size="9.4" font-weight="bold" text-anchor="start" fill="#111" stroke="#111" stroke-width="0.3" >PpIX</text>
<text x="180.9" y="934.7" font-size="9.4" font-weight="bold" text-anchor="start" fill="#111" stroke="#111" stroke-width="0.3" >R<tspan font-size="6.4" dy="-3.7">2</tspan><tspan dy="3.7"> = 0.74</tspan></text>
<line x1="123.70" y1="945.50" x2="138.60" y2="945.50" stroke="#1e1e1e" stroke-width="1.4"/>
<circle cx="131.15" cy="945.50" r="2.0" fill="#1e1e1e"/>
<text x="146.2" y="948.8000000000001" font-size="9.4" font-weight="bold" text-anchor="start" fill="#111" stroke="#111" stroke-width="0.3" ><tspan font-style="italic">FECH</tspan></text>
<text x="180.9" y="948.8000000000001" font-size="9.4" font-weight="bold" text-anchor="start" fill="#111" stroke="#111" stroke-width="0.3" >R<tspan font-size="6.4" dy="-3.7">2</tspan><tspan dy="3.7"> = 0.75</tspan></text>
<text x="307.4" y="807.3" font-size="10" font-weight="bold" text-anchor="start" fill="#111"  >I</text>
<rect x="416.00" y="831.80" width="85.50" height="122.20" fill="#E6E6E6"/>
<rect x="327.15" y="815.25" width="85.40" height="15.70" fill="#FCF9DA" stroke="#111" stroke-width="1.5"/>
<rect x="416.85" y="815.25" width="86.30" height="15.70" fill="#D4D4D4" stroke="#111" stroke-width="1.5"/>
<text x="369.79999999999995" y="826.4" font-size="10.1" font-weight="normal" text-anchor="middle" fill="#111" stroke="#111" stroke-width="0.55" >Light phase</text>
<text x="460.0" y="826.4" font-size="10.0" font-weight="normal" text-anchor="middle" fill="#111" stroke="#111" stroke-width="0.55" >Dark phase</text>
<path d="M315.50,823.80 L315.50,954.00 L510.80,954.00 M510.80,954.00 L510.80,823.80" fill="none" stroke="#111" stroke-width="1.7"/>
<line x1="311.30" y1="954.00" x2="315.50" y2="954.00" stroke="#111" stroke-width="1.5"/>
<text x="310.3" y="957.8" font-size="10" font-weight="bold" text-anchor="end" fill="#111" stroke="#111" stroke-width="0.2" letter-spacing="-0.2">0.0</text>
<line x1="510.80" y1="954.00" x2="515.00" y2="954.00" stroke="#111" stroke-width="1.5"/>
<text x="516.4" y="957.8" font-size="10" font-weight="bold" text-anchor="start" fill="#111" stroke="#111" stroke-width="0.2" >0</text>
<line x1="311.30" y1="921.45" x2="315.50" y2="921.45" stroke="#111" stroke-width="1.5"/>
<text x="310.3" y="925.25" font-size="10" font-weight="bold" text-anchor="end" fill="#111" stroke="#111" stroke-width="0.2" letter-spacing="-0.2">0.5</text>
<line x1="510.80" y1="921.45" x2="515.00" y2="921.45" stroke="#111" stroke-width="1.5"/>
<text x="516.4" y="925.25" font-size="10" font-weight="bold" text-anchor="start" fill="#111" stroke="#111" stroke-width="0.2" >5</text>
<line x1="311.30" y1="888.90" x2="315.50" y2="888.90" stroke="#111" stroke-width="1.5"/>
<text x="310.3" y="892.6999999999999" font-size="10" font-weight="bold" text-anchor="end" fill="#111" stroke="#111" stroke-width="0.2" letter-spacing="-0.2">1.0</text>
<line x1="510.80" y1="888.90" x2="515.00" y2="888.90" stroke="#111" stroke-width="1.5"/>
<text x="516.4" y="892.6999999999999" font-size="10" font-weight="bold" text-anchor="start" fill="#111" stroke="#111" stroke-width="0.2" >10</text>
<line x1="311.30" y1="856.35" x2="315.50" y2="856.35" stroke="#111" stroke-width="1.5"/>
<text x="310.3" y="860.15" font-size="10" font-weight="bold" text-anchor="end" fill="#111" stroke="#111" stroke-width="0.2" letter-spacing="-0.2">1.5</text>
<line x1="510.80" y1="856.35" x2="515.00" y2="856.35" stroke="#111" stroke-width="1.5"/>
<text x="516.4" y="860.15" font-size="10" font-weight="bold" text-anchor="start" fill="#111" stroke="#111" stroke-width="0.2" >15</text>
<line x1="311.30" y1="823.80" x2="315.50" y2="823.80" stroke="#111" stroke-width="1.5"/>
<text x="310.3" y="827.5999999999999" font-size="10" font-weight="bold" text-anchor="end" fill="#111" stroke="#111" stroke-width="0.2" letter-spacing="-0.2">2.0</text>
<line x1="510.80" y1="823.80" x2="515.00" y2="823.80" stroke="#111" stroke-width="1.5"/>
<text x="516.4" y="827.5999999999999" font-size="10" font-weight="bold" text-anchor="start" fill="#111" stroke="#111" stroke-width="0.2" >20</text>
<line x1="329.90" y1="954.00" x2="329.90" y2="958.40" stroke="#111" stroke-width="1.5"/>
<text x="329.9" y="969.4" font-size="10.2" font-weight="bold" text-anchor="middle" fill="#111" stroke="#111" stroke-width="0.2" letter-spacing="0">0</text>
<line x1="358.80" y1="954.00" x2="358.80" y2="958.40" stroke="#111" stroke-width="1.5"/>
<text x="358.79999999999995" y="969.4" font-size="10.2" font-weight="bold" text-anchor="middle" fill="#111" stroke="#111" stroke-width="0.2" letter-spacing="0">4</text>
<line x1="387.70" y1="954.00" x2="387.70" y2="958.40" stroke="#111" stroke-width="1.5"/>
<text x="387.7" y="969.4" font-size="10.2" font-weight="bold" text-anchor="middle" fill="#111" stroke="#111" stroke-width="0.2" letter-spacing="0">8</text>
<line x1="416.60" y1="954.00" x2="416.60" y2="958.40" stroke="#111" stroke-width="1.5"/>
<text x="417.2" y="969.4" font-size="10.2" font-weight="bold" text-anchor="middle" fill="#111" stroke="#111" stroke-width="0.2" letter-spacing="-1.2">12</text>
<line x1="445.50" y1="954.00" x2="445.50" y2="958.40" stroke="#111" stroke-width="1.5"/>
<text x="446.1" y="969.4" font-size="10.2" font-weight="bold" text-anchor="middle" fill="#111" stroke="#111" stroke-width="0.2" letter-spacing="-1.2">16</text>
<line x1="474.40" y1="954.00" x2="474.40" y2="958.40" stroke="#111" stroke-width="1.5"/>
<text x="475.0" y="969.4" font-size="10.2" font-weight="bold" text-anchor="middle" fill="#111" stroke="#111" stroke-width="0.2" letter-spacing="-1.2">20</text>
<line x1="503.30" y1="954.00" x2="503.30" y2="958.40" stroke="#111" stroke-width="1.5"/>
<text x="503.9" y="969.4" font-size="10.2" font-weight="bold" text-anchor="middle" fill="#111" stroke="#111" stroke-width="0.2" letter-spacing="-1.2">24</text>
<text x="412.79999999999995" y="981.3" font-size="9.7" font-weight="bold" text-anchor="middle" fill="#111" stroke="#111" stroke-width="0.3" >ZT (h)</text>
<text transform="translate(290.60,888.30) rotate(-90)" font-size="8.4" letter-spacing="0.7" font-weight="bold" text-anchor="middle" fill="#111" stroke="#111" stroke-width="0.15">mRNA levels of <tspan font-style="italic">ABCG2</tspan></text>
<text transform="translate(536.70,888.70) rotate(90)" font-size="8.9" letter-spacing="0.3" font-weight="bold" text-anchor="middle" fill="#111" stroke="#111" stroke-width="0.15">PPIX (ng/mg tissue)</text>
<path d="M329.90,880.76 C332.31,882.23 339.53,886.84 344.35,889.55 C349.17,892.26 353.98,894.81 358.80,897.04 C363.62,899.26 368.43,901.24 373.25,902.90 C378.07,904.56 382.88,906.08 387.70,907.00 C392.52,907.92 397.33,908.41 402.15,908.43 C406.97,908.45 411.78,908.21 416.60,907.13 C421.42,906.04 426.23,904.04 431.05,901.92 C435.87,899.80 440.68,897.04 445.50,894.43 C450.32,891.83 455.13,888.95 459.95,886.30 C464.77,883.64 469.58,881.14 474.40,878.48 C479.22,875.83 484.03,872.79 488.85,870.35 C493.67,867.91 500.89,864.92 503.30,863.84" fill="none" stroke="#F829CE" stroke-width="1.9"/>
<path d="M329.90,866.12 L329.90,895.41 M327.40,866.12 L332.40,866.12 M327.40,895.41 L332.40,895.41" stroke="#F829CE" stroke-width="1.4" fill="none"/>
<circle cx="329.90" cy="880.76" r="2.0" fill="#F829CE"/>
<path d="M358.80,886.95 L358.80,903.22 M356.30,886.95 L361.30,886.95 M356.30,903.22 L361.30,903.22" stroke="#F829CE" stroke-width="1.4" fill="none"/>
<circle cx="358.80" cy="895.08" r="2.0" fill="#F829CE"/>
<circle cx="387.70" cy="914.94" r="2.0" fill="#F829CE"/>
<path d="M416.60,897.69 L416.60,909.41 M414.10,897.69 L419.10,897.69 M414.10,909.41 L419.10,909.41" stroke="#F829CE" stroke-width="1.4" fill="none"/>
<circle cx="416.60" cy="903.55" r="2.0" fill="#F829CE"/>
<path d="M445.50,885.97 L445.50,895.08 M443.00,885.97 L448.00,885.97 M443.00,895.08 L448.00,895.08" stroke="#F829CE" stroke-width="1.4" fill="none"/>
<circle cx="445.50" cy="890.53" r="2.0" fill="#F829CE"/>
<path d="M474.40,874.58 L474.40,893.46 M471.90,874.58 L476.90,874.58 M471.90,893.46 L476.90,893.46" stroke="#F829CE" stroke-width="1.4" fill="none"/>
<circle cx="474.40" cy="884.02" r="2.0" fill="#F829CE"/>
<path d="M503.30,848.86 L503.30,877.51 M500.80,848.86 L505.80,848.86 M500.80,877.51 L505.80,877.51" stroke="#F829CE" stroke-width="1.4" fill="none"/>
<circle cx="503.30" cy="863.19" r="2.0" fill="#F829CE"/>
<path d="M329.90,905.37 L329.90,918.78 M327.40,905.37 L332.40,905.37 M327.40,918.78 L332.40,918.78" stroke="#1e1e1e" stroke-width="1.4" fill="none"/>
<circle cx="329.90" cy="912.08" r="2.1" fill="#1e1e1e"/>
<path d="M358.80,906.48 L358.80,923.40 M356.30,906.48 L361.30,906.48 M356.30,923.40 L361.30,923.40" stroke="#1e1e1e" stroke-width="1.4" fill="none"/>
<circle cx="358.80" cy="914.94" r="2.1" fill="#1e1e1e"/>
<path d="M387.70,905.31 L387.70,924.57 M385.20,905.31 L390.20,905.31 M385.20,924.57 L390.20,924.57" stroke="#1e1e1e" stroke-width="1.4" fill="none"/>
<circle cx="387.70" cy="914.94" r="2.1" fill="#1e1e1e"/>
<path d="M416.60,887.79 L416.60,897.82 M414.10,887.79 L419.10,887.79 M414.10,897.82 L419.10,897.82" stroke="#1e1e1e" stroke-width="1.4" fill="none"/>
<circle cx="416.60" cy="892.81" r="2.1" fill="#1e1e1e"/>
<path d="M445.50,875.55 L445.50,904.20 M443.00,875.55 L448.00,875.55 M443.00,904.20 L448.00,904.20" stroke="#1e1e1e" stroke-width="1.4" fill="none"/>
<circle cx="445.50" cy="889.88" r="2.1" fill="#1e1e1e"/>
<path d="M474.40,894.76 L474.40,907.78 M471.90,894.76 L476.90,894.76 M471.90,907.78 L476.90,907.78" stroke="#1e1e1e" stroke-width="1.4" fill="none"/>
<circle cx="474.40" cy="901.27" r="2.1" fill="#1e1e1e"/>
<path d="M503.30,903.35 L503.30,914.81 M500.80,903.35 L505.80,903.35 M500.80,914.81 L505.80,914.81" stroke="#1e1e1e" stroke-width="1.4" fill="none"/>
<circle cx="503.30" cy="909.08" r="2.1" fill="#1e1e1e"/>
<line x1="398.10" y1="931.10" x2="412.70" y2="931.10" stroke="#F829CE" stroke-width="1.6"/>
<circle cx="405.40" cy="931.10" r="2.0" fill="#F829CE"/>
<text x="420.8" y="934.4" font-size="9.4" font-weight="bold" text-anchor="start" fill="#111" stroke="#111" stroke-width="0.3" >PpIX</text>
<text x="462.3" y="934.4" font-size="9.4" font-weight="bold" text-anchor="start" fill="#111" stroke="#111" stroke-width="0.3" >R<tspan font-size="6.4" dy="-3.7">2</tspan><tspan dy="3.7"> = 0.74</tspan></text>
<circle cx="405.40" cy="944.60" r="2.0" fill="#1e1e1e"/>
<text x="420.8" y="947.9" font-size="9.4" font-weight="bold" text-anchor="start" fill="#111" stroke="#111" stroke-width="0.3" ><tspan font-style="italic">ABCG2</tspan></text>
<text x="462.3" y="947.9" font-size="9.4" font-weight="bold" text-anchor="start" fill="#111" stroke="#111" stroke-width="0.3" >R<tspan font-size="6.4" dy="-3.7">2</tspan><tspan dy="3.7"> = NA</tspan></text>
</svg>
</body></html>
